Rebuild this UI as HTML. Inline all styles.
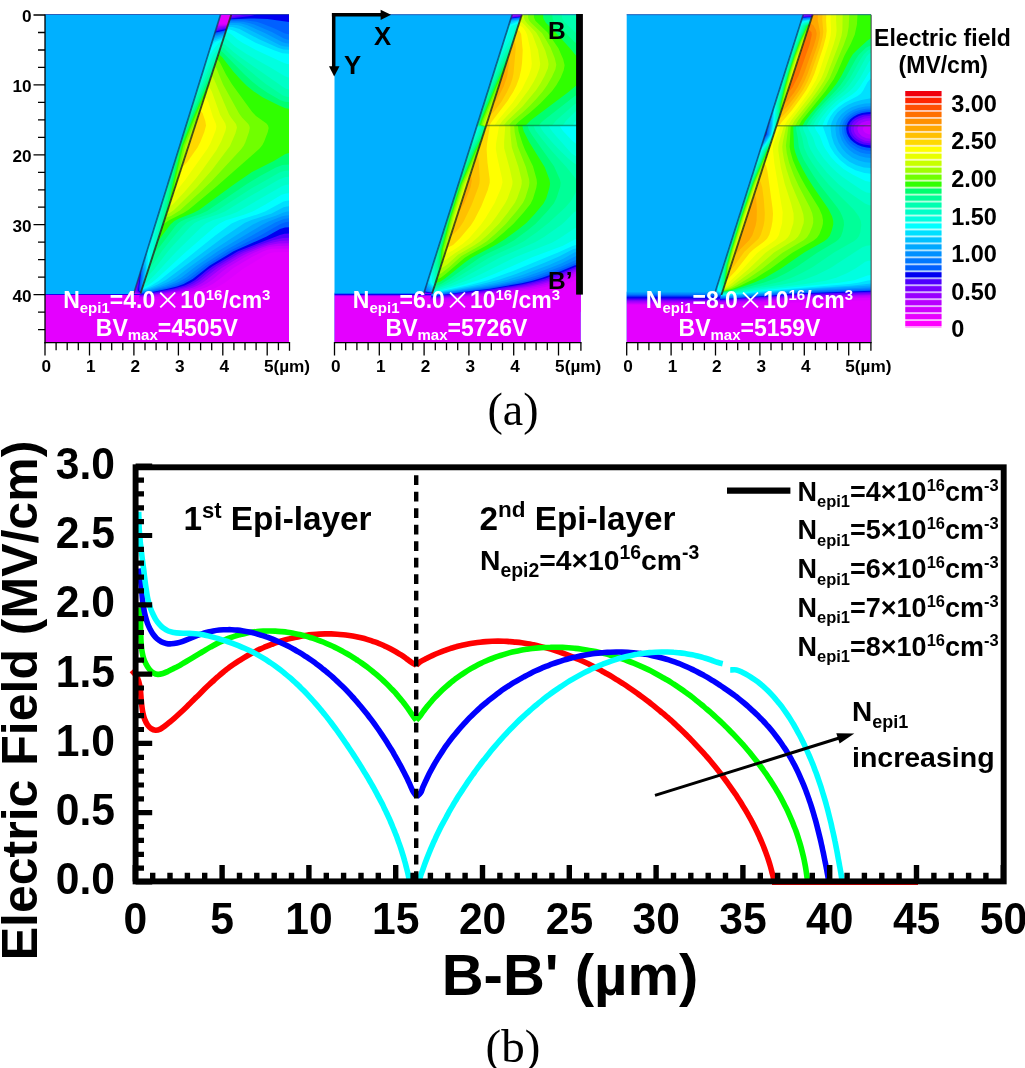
<!DOCTYPE html>
<html lang="en"><head><meta charset="utf-8"><title>Electric field distribution</title>
<style>html,body{margin:0;padding:0;background:#fff}svg{display:block}</style></head><body>
<svg width="1025" height="1068" viewBox="0 0 1025 1068">
<defs><filter id="cbblur" x="-5%" y="-1%" width="110%" height="102%"><feGaussianBlur stdDeviation="0.45"/></filter></defs>
<rect width="1025" height="1068" fill="#fff"/>
<rect x="45.0" y="14.1" width="244.0" height="328.5" fill="#00b0ff"/>
<defs><linearGradient id="bg0" gradientUnits="userSpaceOnUse" x1="0" y1="293.6" x2="0" y2="295.4"><stop offset="0" stop-color="#00b0ff"/><stop offset="0.25" stop-color="#0070ff"/><stop offset="0.45" stop-color="#0000f0"/><stop offset="0.7" stop-color="#9000ff"/><stop offset="1" stop-color="#e400ff"/></linearGradient></defs>
<rect x="45.0" y="293.6" width="244.0" height="49.4" fill="url(#bg0)"/>
<clipPath id="cf0"><path d="M231.6 14.1L289.0 14.1L289.0 312L134.5 312Z"/></clipPath>
<g clip-path="url(#cf0)">
<rect x="134" y="12" width="157" height="300" fill="#e400ff"/>
<path fill="#dc00ff" d="M134 12.5l157 0 0 239.6 -16.5 .2 -4.2 .7 -3.3 1.2 -23.4 14.3 -19.1 14.4 -9.5 5.4 -6 2.3 -16 3.6 -21.5 3.1 -26.5 3.1 -10 .5 -1 0 0 -287.9z"/>
<path fill="#cc00ff" d="M134 12.5l157 0 0 236 -19 .3 -4.5 .9 -4.7 1.8 -10.9 5.5 -18.5 11 -14.4 11.6 -5.6 3.9 -5.9 3.2 -6 2.4 -11 2.8 -18 2.8 -28 3.7 -10 .5 -.5 0 0 -285.9z"/>
<path fill="#b800ff" d="M134 12.5l157 0 0 233.2 -13.5 .2 -7.5 .9 -6 1.7 -10.7 4.5 -8.9 4.5 -16.8 10 -5.5 4 -9.5 8 -5.6 3.8 -5.5 3 -5.5 2.1 -9 2.4 -14 2.4 -29 4.1 -9.5 .5 -.5 0 0 -284.8z"/>
<path fill="#9800ff" d="M234.2 13l.8 -.5 56 0 0 230.6 -12.5 .4 -9 1.5 -7.9 2.5 -13.7 5.5 -7.9 4 -18.3 11 -18.7 14.6 -5.2 2.9 -5.3 2.2 -8 2.2 -12.5 2.3 -28 4.2 -10 .5 0 -282.6 92 0 5 -.3 3 -.9z"/>
<path fill="#7800ff" d="M240.4 13l.6 -.5 50 0 0 228 -11 .6 -10.5 2.1 -10 3.4 -16.4 6.4 -6.6 3.5 -18.4 11 -18.6 14.6 -5 2.8 -5.1 2.1 -10.9 2.9 -19 3.3 -16.5 2.6 -9 .3 0 -280 94.5 -.1 6.5 -.8 5 -2z"/>
<path fill="#5000ff" d="M247.8 13l.6 -.5 42.6 0 0 225 -8 .6 -10 2.2 -13.5 4.4 -19 7.5 -24.7 14.3 -5.6 4 -12.2 10 -5 3 -6 2.7 -9.7 2.8 -18.3 3.4 -16 2.7 -9 .3 0 -278.1 95.5 0 9.9 -1.3 5.1 -1.4 3 -1.4z"/>
<path fill="#0000f0" d="M258.6 13l.6 -.5 31.8 0 0 221 -6.5 .3 -4.5 1.1 -42 16.4 -25.1 14.7 -5.7 4 -12.1 10 -5.1 3 -5.5 2.5 -10.3 3 -27.2 5.3 -6 .8 -7 .2 0 -276.3 96.5 -.1 20 -2.4 5 -1.3 3 -1.6z"/>
<path fill="#0060ff" d="M250.8 18.5l16.7 .4 23.5 3.4 0 204.7 -6 .4 -5 1.5 -13.4 7.6 -33.1 14.8 -24 14.5 -16.8 13.2 -9 5 -6.9 2.5 -10.1 2.5 -21.7 4.4 -8 .7 -3 .1 0 -274.7 93.5 0 23 -1z"/>
<path fill="#0078ff" d="M231.7 20.5l13.3 -.2 11.5 1.5 6 1.9 11.5 4.5 11 5.4 6 1.1 0 186.7 -5.5 .8 -5.5 2 -18.7 10.8 -32.3 16.2 -22.9 14.3 -16.1 12.6 -7.5 4.4 -7.5 3 -8.9 2.5 -20.1 4.6 -7.5 .9 -4.5 0 0 -272.9 97.5 -.1z"/>
<path fill="#0090ff" d="M134 22l103.5 -.5 5.5 .3 6 1.1 5.2 1.6 17.6 7.5 12.1 6.5 3.1 1 4 .5 0 178 -7.2 1 -8.5 3.5 -48.3 26.9 -23.5 15 -17.1 13.1 -7.7 4.5 -12 4.5 -19.1 5 -6.1 1.1 -7.5 .3 0 -270.4z"/>
<path fill="#00a8ff" d="M232.3 23l7.7 .3 6.9 1.7 17.9 8 17.7 9.3 3.5 1 5 .5 0 171.2 -5 .5 -4.5 1.1 -12.8 4.9 -6.9 3.5 -44.3 26.6 -20.5 14 -15.6 11.9 -6.9 4 -9.7 4 -14.7 4.5 -6.6 1.6 -6.5 .6 -3 0 0 -269.2 98 0z"/>
<path fill="#00c0ff" d="M134 25l0 -.4 79.5 0 23.4 .4 4.1 1 4.8 2 34.7 17.4 4.5 1.1 6 .3 0 164.5 -4 .3 -3.5 .8 -8.5 3.5 -13.8 4.6 -8.4 4 -39.8 25.8 -22 15.6 -14.6 11.1 -7.4 4.5 -9.1 4 -12.9 4.5 -5.5 1.2 -7.5 .3 0 -266z"/>
<path fill="#00e0ff" d="M134 26.5l89 -.1 9.5 .5 7 2.2 19.5 10.1 19 8.6 5.5 1.6 7.5 .4 0 156.3 -4 .3 -3.5 .8 -11.9 6.3 -20.1 6.5 -7 3 -21.5 14.5 -57.1 42.5 -8.3 4.5 -10.6 4.5 -5.5 1.3 -7.5 .3 0 -263.6z"/>
<path fill="#00ffff" d="M134 29l0 -.3 84.5 0 10 .4 5.8 1.9 21.2 11.7 18.5 7.6 8.5 2.9 8.5 .6 0 146.5 -4 .4 -3.5 .9 -18.4 9.9 -8 3 -17.6 5.5 -7.9 3.5 -16.6 12.2 -56.3 45.3 -8.2 5 -5.5 2.5 -4.5 1 -6.5 .2 0 -260.2z"/>
<path fill="#00ffe0" d="M134 31.5l86 0 6.5 .5 4.4 2 6.6 5.4 5 3.3 14.5 7.9 26.5 12.2 3.5 1.1 4 .5 0 128.7 -5 .3 -4.5 1.4 -16 9.7 -12.9 7 -7.8 3 -18.8 5.8 -6.5 3.1 -4.5 3.3 -29.5 25.5 -28 25.8 -5.5 4.5 -5.1 3.5 -3.3 1.5 -3.6 .7 -6 .2 0 -256.4z"/>
<path fill="#00ffc8" d="M134 37l0 -.4 82 0 7.5 .5 3 1.6 8 7.4 12 7.8 24.8 14.1 13.2 8 3 1.2 3.5 .5 0 106.6 -5 .5 -4 1.5 -44.9 25.7 -6.4 2.5 -17.5 5.5 -7.4 3.5 -4.8 4 -24.5 23.9 -21.8 23.6 -6.7 6.5 -3.3 2.5 -2.7 1.2 -8 .7 0 -248.4z"/>
<path fill="#00ffb0" d="M134 42.5l81.5 -.1 7 .8 3.5 2 7.5 6.8 6.5 5 43 30.1 3.5 1.9 4.5 .8 0 86.7 -5.5 .5 -6.5 2.5 -32 18.5 -22 13.6 -6.5 2.7 -17.9 5.7 -6.1 3 -5 4.5 -20.5 22.5 -14.2 18.5 -5.3 6 -3.5 2.8 -3 1.5 -3 .6 -6 .1 0 -236.5z"/>
<path fill="#00ff98" d="M134 46.5l0 -.3 80 0 7.5 .7 3 1.7 8.5 8.5 32.7 26.9 17.3 11.4 3.5 1.3 4.5 .5 0 73.2 -7 .6 -4.5 1.5 -28.3 16 -34.8 22.5 -6.8 3 -16.6 5.5 -6.1 3 -4.5 4 -10.4 11.9 -10 12.6 -8.5 12.6 -4.5 5.4 -2.5 1.8 -2.5 .9 -10 .3 0 -225z"/>
<path fill="#00ff70" d="M134 50l0 -.3 78 0 7.5 .6 3 1.7 21.5 22.1 8.7 7.9 6.3 5 8.9 6 12.6 7.2 4.5 1.5 6 .5 0 62.2 -8.5 .7 -6.6 2.4 -15.8 8.5 -13.6 8.3 -39.5 26.7 -6.6 3 -14.6 5 -5.2 2.5 -2.7 2 -2.8 3 -15.6 20.5 -8.5 9.9 -2.5 1.6 -2.5 .7 -12 .2 0 -208.9z"/>
<path fill="#30ff00" d="M134 54l0 -.5 76.5 0 7.5 .7 2 1.1 2 1.8 11.5 14.6 7 7.9 6.5 6.3 6.5 5.3 9 6.1 16.5 8.3 6.5 2.7 5.5 .8 0 43.7 -3 .4 -3 1.1 -11.2 6.7 -21.8 11.1 -18.5 12.7 -34.5 25.2 -5.9 3 -14.1 5.5 -4.7 2.5 -3.9 3.5 -10.4 13.9 -4.5 4.2 -2.5 1.1 -2.5 .4 -16.5 0 0 -189.6z"/>
<path fill="#70ff00" d="M134 58.5l76.5 -.1 4 .2 2.5 .8 1.5 1.1 1.5 2 6 12.1 6 9.7 20.2 27.7 3.8 4 10.5 7.5 1.5 2 .7 2.5 -.9 4 -3.6 9.5 -1.8 3.5 -2.8 3.5 -44.8 39.5 -25.9 21.5 -5.4 3.5 -14.9 7.5 -8.1 5.8 -2.5 1.2 -4.5 .6 -19.5 0 0 -169.1z"/>
<path fill="#a0ff00" d="M134 65l0 -.5 73 0 4.5 .2 2.4 .8 2.6 3 6.6 16 16 29 2.9 4 6.3 6.5 1.1 2 .4 2 -.8 4 -3.7 10.5 -1.8 3.5 -2.6 3.5 -29.1 31.5 -11 10.5 -21 19 -8.8 5.5 -7.5 2.5 -5.5 .5 -24 0 0 -153.5z"/>
<path fill="#c8ff00" d="M134 74.5l70.5 -.1 3.5 .2 2.5 .7 2 1.6 1.5 2.4 14.9 34.7 2.1 3.5 5 6.5 1 3.5 -1.6 6 -5.4 12.5 -18.4 24.5 -14.5 16.5 -23.1 23 -5 3.4 -5 1.4 -30 .2 0 -140z"/>
<path fill="#e8ff00" d="M134 85.5l0 -.4 67 0 4 .2 2.5 .7 2.4 2 1.9 3.5 8.4 23.5 5.1 8.5 .9 3.5 -.8 4 -4.2 10.5 -5 9 -14.2 20 -6.5 8.5 -11.1 13 -11.9 12.7 -4 2.6 -4 1 -30.5 .2 0 -122.5z"/>
<path fill="#ffff00" d="M134 96.5l0 -.4 62.5 0 7 .6 2.7 1.8 2.3 4.1 4.3 13.9 3.2 7.5 .4 2.5 -.6 3.5 -2.3 6 -3.1 7.5 -2.8 5 -22.1 31 -6.5 8.3 -3.5 3.6 -3.5 2.2 -4 1 -34 .2 0 -97.8z"/>
<path fill="#ffd800" d="M134 109.5l57.5 -.2 6.5 .3 2.5 1.1 2.2 2.8 2.6 7.5 .7 4.5 -1.7 6.5 -4.2 10.5 -2.6 5 -10 14.2 -3 3.2 -3 2.3 -3 1.2 -3.5 .3 -41 .1 0 -58.8z"/>
</g>
<clipPath id="cs0"><path d="M220.7 14.1L231.4 14.1L140.5 293.5L133.8 293.5Z"/></clipPath>
<g clip-path="url(#cs0)">
<rect x="129" y="12" width="106" height="288" fill="#e400ff"/>
<path fill="#dc00ff" d="M225.7 23.5l4.9 -.4 -90.7 276.4 -9.2 0 84.8 -275.5 8.6 -.4z"/>
<path fill="#cc00ff" d="M221.7 24.5l8.6 -.4 -90.4 275.4 -7.9 0 1.5 -5 -1.1 -.7 82.9 -268.9 6.4 -.4z"/>
<path fill="#b800ff" d="M218.9 25.5l11.1 -.7 -90.1 274.7 -4.6 0 1.6 -5 -2.4 -1 -1.5 -1.6 82 -266.1 2.1 -.2z"/>
<path fill="#9800ff" d="M216.9 26.5l12.9 -.9 -89.9 273.9 -1.3 0 1.6 -5 -2.5 -.7 -2.3 -1.1 -1.1 -1.2 -.2 -1 2 -7 .3 -2.7 78.3 -253.9 2.2 -.4z"/>
<path fill="#7800ff" d="M227.4 26.5l2.2 -.2 -88 267.9 -2.4 -.7 -2.3 -1.1 -1.2 -.9 -.3 -1 1.8 -8 .6 -6.3 76.3 -247.6 13.3 -2.1z"/>
<path fill="#5000ff" d="M228.8 27.5l.4 0 -87.4 266.1 -3.5 -1.4 -1.1 -.7 -.5 -1 1.4 -8 .8 -8 -.1 -1.5 74.8 -242.6 6.7 -1.5 6.7 -1.1z"/>
<path fill="#0000f0" d="M223.8 29.5l5 -.9 -86.8 264.4 -3.4 -1.5 -.6 -1 1.9 -16 -.5 -3.4 73.7 -239.1 9 -2.2z"/>
<path fill="#0060ff" d="M224.9 30.5l3.5 -.7 -86.2 262.6 -2.1 -.9 -.8 -1 .1 -4 1.4 -12 -.2 -2.7 -.6 -2.7 72.7 -235.8 11.2 -2.6z"/>
<path fill="#0078ff" d="M225.8 31.5l2.2 -.5 -85.6 260.9 -1.8 -1.4 -.1 -1 .1 -4.5 1.1 -11.5 -.2 -3 -.9 -3.3 71.7 -232.6 13.5 -3.1z"/>
<path fill="#0090ff" d="M226.6 32.5l1 -.2 -85 258.9 -.7 -.7 -.4 -4.3 1.2 -14.7 -.4 -3 -1 -3.4 70.6 -229.1 13.4 -3.2z"/>
<path fill="#00a8ff" d="M223.1 34.5l4.1 -.9 -84.2 256.3 -.5 -6.4 1.2 -12.7 -1.4 -9.2 69 -223.8 3.8 -1.3 7.6 -1.9z"/>
<path fill="#00c0ff" d="M223.9 35.5l2.9 -.7 -83 252.8 -.3 -4.1 1.3 -14 -.8 -8.8 -.5 -2.8 67.2 -218.1 11.5 -3.8z"/>
<path fill="#00e0ff" d="M225.4 36.5l.9 -.2 -81.8 249 -.1 -2.8 1.6 -14.6 -.2 -8.4 -.4 -3 -.8 -2.4 65.4 -212.1 14 -5z"/>
<path fill="#00ffff" d="M224.8 38.5l.9 -.3 -80.4 244.6 2 -14.3 .5 -9 -.4 -5 -1.6 -4.2 58.6 -190.1 1.7 -4.7 1.6 -3 3 -5 3.5 -5 1.9 -1 7.2 -2.5z"/>
<path fill="#00ffe0" d="M224.1 40.5l.9 -.3 -78.2 238.3 3.1 -20 .1 -4 -.6 -4 0 -2 2.4 -12 5 -20 1.2 -5.7 36.1 -117.3 3.5 -8 7.6 -20 4.8 -11 4.1 -6 4.2 -5 1 -1 3.4 -1.5z"/>
<path fill="#00ffc8" d="M223.2 43.5l1 -.9 -75.8 231.1 3.6 -15.2 .8 -5 .4 -8.1 1.3 -8.6 8.8 -43.4 26.2 -84.9 9.6 -22 6.6 -16 6.1 -13 1.6 -3 2.3 -3 6.4 -7z"/>
<path fill="#00ffb0" d="M221.3 49.5l1 -1 -65.9 200.5 .4 -8.5 1.4 -10.6 9.2 -47.4 2.4 -10.1 14.3 -46.4 4.2 -10.5 19.8 -45 4.1 -8 3.9 -7 4.2 -5z"/>
<path fill="#00ff98" d="M220.3 54.5l-60.6 184.5 .7 -7.5 1.2 -9 6.8 -36 9.7 -41 12.1 -30 15 -34 7 -14 7.3 -12z"/>
<path fill="#00ff70" d="M217.3 63.5l-54.3 165.5 1.7 -12.5 6.2 -33 9 -38 12.1 -30 12.9 -29 6 -12 5.7 -10z"/>
<path fill="#30ff00" d="M214.4 72.5l-48.1 146.5 6.4 -35.5 9 -38 11.7 -29 5.4 -12 8.5 -19 6.5 -12z"/>
<path fill="#70ff00" d="M211.4 81.5l-41.2 125.6 4.5 -24.6 8.7 -37 12.3 -30 13.1 -29 2.1 -4z"/>
<path fill="#a0ff00" d="M207 94.5l-32.6 99.9 2.2 -11.9 8.6 -37 11.9 -29 9.5 -21z"/>
<path fill="#c8ff00" d="M202.1 109.5l-23.4 71.7 8.3 -35.7 14.7 -35z"/>
<path fill="#e8ff00" d="M196.6 126.5l-12.1 37.1 4.2 -18.1 7.5 -18z"/>
</g>
<path d="M220.6 14.5L133.8 293.5" stroke="#0c4068" stroke-width="1.7" stroke-opacity="0.75" fill="none"/>
<path d="M231.3 14.5L140.5 293.5" stroke="#2c2810" stroke-width="1.9" stroke-opacity="0.8" fill="none"/>
<path d="M45.0 14.5H289.0" stroke="#3048a8" stroke-width="1" stroke-opacity="0.8" fill="none"/>
<g stroke="#000" stroke-width="1.3" fill="none">
<path d="M44.4 342.6H290.1"/>
<path d="M45.0 342.6v12.8M56.1 342.6v7.6M67.2 342.6v7.6M78.3 342.6v7.6M89.5 342.6v12.8M100.6 342.6v7.6M111.7 342.6v7.6M122.8 342.6v7.6M133.9 342.6v12.8M145.0 342.6v7.6M156.1 342.6v7.6M167.2 342.6v7.6M178.4 342.6v12.8M189.5 342.6v7.6M200.6 342.6v7.6M211.7 342.6v7.6M222.8 342.6v12.8M233.9 342.6v7.6M245.0 342.6v7.6M256.1 342.6v7.6M267.2 342.6v12.8M278.4 342.6v7.6M289.5 342.6v8.2"/>
<path d="M45.0 14.4V343.2"/>
<path d="M45.0 15.0h-11.5M45.0 32.5h-7M45.0 50.0h-7M45.0 67.4h-7M45.0 84.9h-11.5M45.0 102.4h-7M45.0 119.9h-7M45.0 137.3h-7M45.0 154.8h-11.5M45.0 172.3h-7M45.0 189.8h-7M45.0 207.2h-7M45.0 224.7h-11.5M45.0 242.2h-7M45.0 259.6h-7M45.0 277.1h-7M45.0 294.6h-11.5M45.0 312.1h-7M45.0 329.6h-7"/>
</g>
<g font-family='"Liberation Sans", Arial, Helvetica, sans-serif' font-weight="bold" font-size="17.2" text-anchor="middle" fill="#000">
<text x="46.4" y="372">0</text>
<text x="90.9" y="372">1</text>
<text x="135.3" y="372">2</text>
<text x="179.8" y="372">3</text>
<text x="224.2" y="372">4</text>
<text x="263.9" y="372" text-anchor="start">5(µm)</text>
<text x="31.6" y="22.0" text-anchor="end">0</text>
<text x="31.6" y="91.9" text-anchor="end">10</text>
<text x="31.6" y="161.8" text-anchor="end">20</text>
<text x="31.6" y="231.7" text-anchor="end">30</text>
<text x="31.6" y="301.6" text-anchor="end">40</text>
</g>
<g font-family='"Liberation Sans", Arial, Helvetica, sans-serif' font-weight="bold" font-size="23" fill="#fff" text-anchor="middle">
<text x="166.8" y="307.8">N<tspan font-size="15" dy="5.3">epi1</tspan><tspan dy="-5.3">=4.0</tspan><tspan font-family='"Noto Sans CJK SC","Liberation Sans",sans-serif' font-weight="normal" font-size="25" dy="1">×</tspan><tspan dy="-1">10</tspan><tspan font-size="15" dy="-7.5">16</tspan><tspan dy="7.5">/cm</tspan><tspan font-size="15" dy="-7.5">3</tspan></text>
<text x="166.8" y="335.9">BV<tspan font-size="15" dy="4.3">max</tspan><tspan dy="-4.3">=4505V</tspan></text>
</g>
<rect x="334.5" y="14.3" width="246.2" height="328.3" fill="#00b0ff"/>
<defs><linearGradient id="bg1" gradientUnits="userSpaceOnUse" x1="0" y1="292.6" x2="0" y2="296.6"><stop offset="0" stop-color="#00b0ff"/><stop offset="0.25" stop-color="#0070ff"/><stop offset="0.45" stop-color="#0000f0"/><stop offset="0.7" stop-color="#9000ff"/><stop offset="1" stop-color="#e400ff"/></linearGradient></defs>
<rect x="334.5" y="292.6" width="246.2" height="50.4" fill="url(#bg1)"/>
<clipPath id="cf1"><path d="M522.1 14.3L580.7 14.3L580.7 312L426.2 312Z"/></clipPath>
<g clip-path="url(#cf1)">
<rect x="426" y="13" width="156" height="299" fill="#e400ff"/>
<path fill="#dc00ff" d="M426 12.7l156.5 0 0 266.5 -6.5 .9 -11 4.8 -10.5 3 -14 3 -17 3 -55 6 -34.5 3 -7.5 .2 -.5 0 0 -289.9z"/>
<path fill="#cc00ff" d="M426 12.7l156.5 0 0 261.7 -6.1 1.3 -12.4 5.8 -7.5 2.6 -11.5 2.9 -17.5 3.3 -30.5 4.2 -62.5 6.3 -8 .3 -.5 0 0 -287.9z"/>
<path fill="#b800ff" d="M426 12.7l156.5 0 0 259.3 -6.5 1.3 -13.5 6.3 -8.5 3.1 -11 2.8 -15 3 -31.5 4.5 -61.5 6.6 -8.5 .3 -.5 0 0 -286.7z"/>
<path fill="#9800ff" d="M426 12.7l156.5 0 0 257.6 -7 1.2 -14 6.4 -10 3.7 -10.5 2.7 -13 2.7 -33 4.9 -60.5 6.8 -8 .4 -.5 0 0 -285.9z"/>
<path fill="#7800ff" d="M426 12.7l156.5 0 0 256.1 -4 .3 -3.5 .9 -14.5 6.4 -12 4.4 -9.5 2.5 -12 2.6 -32.5 5 -60 7.1 -8 .3 -.5 0 0 -285.1z"/>
<path fill="#5000ff" d="M426 12.7l156.5 0 0 254.7 -7.5 1.1 -14 6 -15.9 5.7 -19.6 4.7 -33.5 5.4 -57.5 7 -8 .3 -.5 .1 0 -284.5z"/>
<path fill="#0000f0" d="M426 12.7l156.5 0 0 253.2 -7.5 1.1 -12.5 5.2 -17.5 6.4 -10.5 3 -11.6 2.6 -32.4 5.3 -42 5.1 -13.5 2 -8.5 .4 -.5 0 0 -283.8z"/>
<path fill="#0060ff" d="M426 12.7l156.5 0 0 251.5 -7.5 1.1 -13.3 5.4 -19.4 7 -10 3 -10.8 2.5 -31.8 5.5 -39.7 5 -15 2.3 -8.5 .4 -.5 0 0 -283.2z"/>
<path fill="#0078ff" d="M426 12.7l156.5 0 0 249.3 -7 1.1 -13.8 5.6 -22.2 8 -11.5 3.5 -10.5 2.5 -31 5.5 -36 4.7 -15.5 2.5 -8.5 .5 -.5 0 0 -282.7z"/>
<path fill="#0090ff" d="M426 12.7l156.5 0 0 245.9 -6.5 1.3 -15.3 6.8 -24.6 9 -20.8 6 -14.4 3 -17.7 3 -33.2 4.6 -15 2.6 -8.5 .4 -.5 0 0 -282.1z"/>
<path fill="#00a8ff" d="M426 12.7l156.5 0 0 242 -6.5 1.3 -14.2 7.2 -19 7.5 -18.6 6.5 -12.1 3.5 -13.2 3 -16.3 3 -32.1 4.8 -15.5 2.8 -8.5 .4 -.5 0 0 -281.5z"/>
<path fill="#00c0ff" d="M426 12.7l156.5 0 0 238.5 -4.5 .3 -3.5 .9 -11.2 6.3 -13.6 6 -27.9 10.5 -15.8 5 -12.3 3 -15.3 3 -43.4 7.5 -8.5 .4 -.5 0 0 -280.9z"/>
<path fill="#00e0ff" d="M426 12.7l156.5 0 0 235.2 -5.5 .3 -4 1 -13.5 7 -15 6.5 -27.9 11 -17.6 6 -20.3 5 -41.7 8 -10.5 .8 -.5 0 0 -280.3z"/>
<path fill="#00ffff" d="M426 12.7l156.5 0 0 231.5 -5 .4 -5 1.4 -15 6.7 -45 18.5 -24.7 9 -17 4.5 -33.8 7.3 -4.5 .7 -6 .1 -.5 0 0 -279.6z"/>
<path fill="#00ffe0" d="M426 12.7l156.5 0 0 112.7 -22.6 .3 .8 2 2.1 3 8.7 9.3 6 5 2 1.1 3 .7 0 91.2 -4.5 .4 -2.5 .7 -12.5 6.6 -31.5 11.8 -35.5 15.7 -17.8 7 -14.7 4.5 -26.3 6.5 -4.7 .7 -6 .2 -.5 0 0 -278.9z"/>
<path fill="#00ffc8" d="M426 12.7l156.5 0 0 104.6 -3 .8 -2.5 1.5 -2.5 2.6 -1.8 3 -23.7 .5 1.3 3 2.5 3.5 18.7 21.2 4.5 2.9 6.5 .9 0 69 -4.5 .8 -4.5 2 -14.5 9.8 -7.1 3.9 -36.8 14.5 -32.3 16 -15.3 7 -12.2 4.5 -16.5 5 -5.3 1.1 -7 .3 -.5 0 0 -277.9z"/>
<path fill="#00ffb0" d="M426 12.7l149.5 0 .2 5 1.2 3.5 2.5 2.5 3.1 1.1 0 83.1 -3.1 .8 -3.6 2.5 -9.8 9.5 -3.1 4.5 -22.9 .5 1.5 3.5 2.5 3.5 9 10.5 6.7 7 8.3 8 5.5 4.5 5.5 3.5 3.5 1 0 42.1 -4.9 .9 -3.6 2 -9 9.3 -4 3.5 -17 11.9 -9 5.4 -35.5 15.4 -37.5 20.7 -10.5 5.1 -15 5.5 -4 .7 -6.5 .1 0 -276.6z"/>
<path fill="#00ff98" d="M426 12.7l135.7 0 .5 5.5 2.4 4 12.9 12.3 2 1.2 3 .7 0 64.1 -4 1.1 -4.5 3.1 -17.7 15.5 -4.1 5 -18.8 .5 2.1 4.8 7 9.3 9.5 11.4 14.5 16 12.5 15.5 .5 1.5 -.5 2 -7.5 14 -6 7 -16.7 15.5 -12.1 9.5 -12.8 9 -7.5 4 -27.9 12.7 -34.3 21.3 -9.2 5 -9.5 3.7 -9.5 .6 0 -275.3z"/>
<path fill="#00ff70" d="M426 12.7l126.1 0 .5 6 1.2 2.5 2.1 2.5 10.1 9.5 8.5 8.9 4 2.4 4 .9 0 47.7 -4 .8 -4 2.3 -30.1 23.5 -3.4 3 -2 2.5 -11.4 .5 1.3 4 3.1 5.2 22 31.3 5.8 13 .8 3.5 -.4 4 -3.6 11 -2.7 5.5 -7 8.5 -11.3 12 -7.6 6.3 -13.9 10.2 -7.9 4.5 -19.1 9 -7.5 4 -30.8 21.5 -7.3 4.5 -6.6 2.5 -8.9 .5 0 -273.5z"/>
<path fill="#30ff00" d="M426 12.7l117 0 .3 5.5 2.5 4.5 11 11 13.6 15 6.1 7.6 3 2.1 3 .9 0 22.5 -4.5 2.1 -9.2 7.8 -38 28.5 -5 5 -3.5 .5 1.4 5.5 5.3 10.5 15.8 25.5 4.7 12.5 .6 4 -.7 4 -3.1 10.5 -2.8 5.3 -8.5 10.2 -8.4 9 -7.4 6 -14.3 10.5 -8.9 5.5 -24.5 13 -7 5.1 -19.2 15.4 -4.8 3.2 -6 2.2 -8.5 .4 0 -270.8z"/>
<path fill="#70ff00" d="M426 12.7l107.9 0 0 4.5 1.5 3.5 12.4 12 10.6 15.5 4.8 11 1.4 6 -.9 5 -3 7.5 -4.4 7.5 -4.4 6 -11.4 12 -10.1 9 -11.8 9.5 -3.3 3.5 2.6 .5 .7 5.5 3.9 12.4 2.5 6.2 8 16.4 3.6 13 .4 4 -.7 4.5 -3.3 11 -2.4 5 -6.8 8.5 -10.3 11.5 -9.4 8.5 -11.5 9.5 -6.1 3.9 -16.1 8.6 -5.7 3.5 -18.7 16.1 -5.5 4.1 -5.5 1.9 -9 .3 0 -266.9z"/>
<path fill="#a0ff00" d="M426 12.7l102.3 0 -.2 5 1.2 3 2.2 2.6 10.6 9.9 8.3 14 4.4 11 1.5 6.5 -.9 4.5 -3.4 7.5 -4.9 8.5 -4.2 6 -6.4 7.5 -6.7 7 -6.8 6.5 -10.7 9 -3.4 4 5.3 .5 .5 6.5 2.9 14 8.2 20.5 3.3 12.5 .3 3.5 -.6 4 -3.4 11 -2.4 5 -6.4 8.5 -10.6 12.5 -9.9 9.5 -9.2 8 -6.2 4 -19.5 11 -12.6 11.5 -7.6 5.8 -5 1.7 -10 .2 0 -262.2z"/>
<path fill="#c8ff00" d="M426 12.7l97.8 0 0 4.5 1.3 3.5 2.4 3 8.5 8.5 3.4 5.5 5.9 13 2.7 9.5 .6 4 -.7 4 -3.2 7.5 -4.1 7.5 -4.6 7 -13.3 16 -15.7 15 -3.1 4 6.4 .5 .1 7.5 1.4 14 6.7 20.1 3.2 12.9 0 3.5 -.7 3.5 -3.7 10.5 -2.4 5 -7.5 10.5 -8.4 10.5 -11.1 11 -7.5 6.5 -6 4 -16.4 9.6 -11 9.9 -5 3.4 -5 1.5 -11 .2 0 -256.6z"/>
<path fill="#e8ff00" d="M426 19.2l85.5 -.3 6.5 .6 3 1.9 4 3.8 4.9 5.5 2.6 4 5.5 15 2.2 14 -.7 4.5 -2.8 7.5 -3 6 -4.9 8 -11.6 15.5 -14.7 15.5 -3.2 4.5 6 .5 -1.2 16.5 .1 6 5.8 21.5 2.5 11.5 -.1 3 -.9 3.5 -3.8 10.5 -2.5 5 -8.7 13 -5.6 7.5 -12.5 13 -6.8 6 -16.7 10.5 -8.9 6.5 -3 1.6 -4.5 1.1 -12.5 .1 0 -242.8z"/>
<path fill="#ffff00" d="M426 24.7l86 -.2 7 .6 2.5 1.3 2 1.9 2 2.9 1.6 3.5 3.3 15 1.4 13.5 -.5 4.5 -2.5 7.5 -6.9 14 -9.3 13.5 -15 18 -3 4.5 4.5 .5 -3 17.5 -.3 5.5 1.6 9 4.7 21 .4 3.5 -1.5 6 -6.5 15 -9.1 15 -4.9 7 -11.4 13 -6.3 5.5 -10.3 7 -7 3.2 -5 .9 -14.5 0 0 -229.6z"/>
<path fill="#ffd800" d="M426 29.2l83.5 -.1 7 .4 3 1.6 1.7 3.1 1.5 16 -.6 12 -.9 7 -1.9 8.5 -3 8 -3.3 6.5 -5.7 9 -15.6 20.5 -2.2 3.5 .4 .5 -2.8 17.5 -.5 6 .9 13.5 2.2 16.5 0 3.5 -2 7.5 -6.4 16 -6.9 13.5 -3.5 5.5 -10.9 13 -7 6.7 -3.5 1.9 -3.5 .9 -20 .2 0 -218.2z"/>
<path fill="#ffc000" d="M426 36.7l84 .1 2.5 .8 1.8 2.1 1.1 4 .3 5 -2.2 25 -1.1 5 -2 6 -3.5 7.5 -5.5 9.5 -6.9 9.2 -5 5.2 -3.5 2 -4.5 .8 -55.5 0 0 -81.7zM426 151.7l44 -.2 5 .7 2.1 2 1.5 4.5 1.1 20.5 -.3 4 -.9 3.5 -6.8 18 -8.2 17 -3.3 5 -3.7 4.6 -4.5 4 -4.5 2.1 -4.5 .4 -17 0 0 -85.6z"/>
<path fill="#ffa800" d="M426 54.7l77.5 0 2.5 .7 1.5 1.6 1 2.8 .3 3.9 -1.6 12.5 -3.7 10.8 -6.5 12.4 -2.5 3.1 -3 2.3 -3 1 -3.5 .3 -59 0 0 -50.9zM426 172.7l41 .1 2 .8 1.5 1.6 1 2.5 .3 3 -1.1 6 -6.2 16 -4 7 -4.5 5 -2.5 1.4 -3 .6 -24.5 .1 0 -43.6z"/>
<path d="M486.2 125.5H580.7" stroke="#004020" stroke-opacity="0.45" stroke-width="1.6" fill="none"/>
</g>
<clipPath id="cs1"><path d="M512.2 14.3L521.9 14.3L432.1 293.5L423.8 293.5Z"/></clipPath>
<g clip-path="url(#cs1)">
<rect x="419" y="13" width="106" height="287" fill="#e400ff"/>
<path fill="#dc00ff" d="M510.5 13.7l13.6 0 -92.3 286 -11.6 0 90 -285z"/>
<path fill="#cc00ff" d="M510.5 13.7l13.6 0 -92.3 286 -11.6 0 90 -285z"/>
<path fill="#b800ff" d="M512.4 13.7l11.7 0 -92.3 286 -11.6 0 89.9 -284.8 2 -.2z"/>
<path fill="#9800ff" d="M522.1 13.7l2 0 -92.3 286 -9.9 0 1.5 -5 -1.6 -.2 88 -278.6 12 -1.2z"/>
<path fill="#7800ff" d="M517.3 15.7l6.3 -.5 -91.8 284.5 -1.7 0 1.6 -5 -9.5 -1.2 87.3 -276.7 6.1 -.9z"/>
<path fill="#5000ff" d="M514.8 16.7l8.6 -1 -89.9 278.5 -11.1 -1.6 86.9 -275.2 4 -.5z"/>
<path fill="#0000f0" d="M519.6 16.7l3.6 -.4 -89.5 277.3 -6.3 -.8 -4.7 -1 86.4 -273.8 10.1 -1.2z"/>
<path fill="#0060ff" d="M516.6 17.7l6.4 -.8 -89.1 276.2 -6.3 -1 -4.6 -1.4 85.9 -272 6.1 -.8z"/>
<path fill="#0078ff" d="M521.5 17.7l1.3 -.2 -88.7 275.1 -5.2 -.9 -3.2 -1 -2 -2 85 -269.4 12.1 -1.5z"/>
<path fill="#0090ff" d="M518.5 18.7l4.1 -.5 -88.4 273.9 -5.8 -1.4 -4.1 -4.1 84.2 -266.6 8.1 -1.1z"/>
<path fill="#00a8ff" d="M515.5 19.7l6.9 -.9 -88 272.7 -3.3 -.8 -3.4 -3 -2.7 -3.2 83.3 -263.9 6 -.8z"/>
<path fill="#00c0ff" d="M520.3 19.7l1.9 -.2 -87.6 271.4 -.7 -.2 -2.1 -1.5 -3.6 -3.5 -1.6 -2 -.5 -1 -.2 -1.2 82 -259.7 4.6 -1.1 7.7 -1z"/>
<path fill="#00e0ff" d="M517.3 20.7l4.7 -.6 -87 269.5 -3.9 -3.3 -3 -3.6 -.6 -6.2 79.8 -252.7 5.7 -2.1 2.9 -.7z"/>
<path fill="#00ffff" d="M517.9 21.7l3.9 -.9 -86.3 267.3 -3.7 -3.4 -1.6 -2 -1.1 -11.2 43.1 -136.6 3.1 -7.2 -.5 -.9 31.8 -100.8 11 -4.2z"/>
<path fill="#00ffe0" d="M520 22.7l1.3 -.5 -85.3 264.3 -2.6 -2.3 -1.1 -1.5 -1.6 -16.2 38.1 -120.8 5.3 -11 3.1 -7 -.7 -1 -1.5 -.5 14.5 -46 11.7 -29.5 4.6 -10 4.9 -14 1.1 -1 7.3 -2.7z"/>
<path fill="#00ffc8" d="M519.3 24.7l1.4 -.5 -84.2 260.8 -2.1 -2.3 -1.8 -16 2.1 -13.1 29.4 -92.9 4.5 -11 7.4 -15 3 -7 -.8 -1 -3.1 -1 8.5 -26.9 12.2 -30.1 6.5 -15 3.6 -7 3.7 -6 5.8 -14 1.2 -1 1.9 -.7z"/>
<path fill="#00ffb0" d="M519.2 28.7l-82.2 254.7 -.5 -.7 -.7 -4 -1.4 -13 2.6 -16 8.3 -29.5 12.4 -39.3 12.1 -30.2 8 -16 3 -7 -.8 -1 -3.2 -1 -1.4 -.8 3.3 -10.5 16.4 -39.7 7.5 -17 5 -9 5.9 -8 5.2 -11z"/>
<path fill="#00ff98" d="M513.5 44.7l.9 -.9 -76.3 236.3 -1.8 -14.4 2.1 -16 9.4 -34 10.5 -33 13.1 -32 8.2 -16 3 -7 -.8 -1 -3.4 -1 -1.9 -1 1.6 -5 15.8 -38 7.9 -18 4.6 -9 3.2 -5 3 -4z"/>
<path fill="#00ff70" d="M512.2 49.7l-72.8 226.3 -1.2 -10.3 .5 -7 1.1 -9 9.3 -34 10.1 -32 1.6 -4 12.2 -29 8.4 -16 3.1 -7 -.9 -1 -3.6 -1 -2 -1 1.6 -5 13.3 -32 7.1 -16 7.3 -15 4.2 -6z"/>
<path fill="#30ff00" d="M510.1 55.7l.7 -.9 -70 217 -.7 -5.1 0 -3 1.2 -14 9 -34 10.2 -32 14.2 -33 8.5 -16 3.1 -7 -1 -1 -3.7 -1 -2 -1 1.5 -5 15.6 -37 6.6 -14 6.2 -12z"/>
<path fill="#70ff00" d="M508.2 62.7l-20.7 64.4 -.4 -.4 -3.8 -1 -2.2 -1 1.6 -5 13.3 -32 6.1 -13 5.6 -11zM484.5 135.7l-42.4 132 -.2 -9 1 -10 8.7 -33 10.1 -32 14.6 -33 7.6 -14z"/>
<path fill="#a0ff00" d="M504.9 72.7l-17.2 53.7 -2.8 -.7 -2.3 -1 1.9 -6 12.6 -30 7.3 -15zM482.3 142.7l-38.7 120.3 .1 -7.3 .6 -7 8.5 -33 10.2 -32 13.5 -30 5.2 -10z"/>
<path fill="#c8ff00" d="M502.1 81.7l-14.3 44.3 -3.7 -1.3 2 -6 12.6 -30 2.9 -6zM480.1 149.7l-34.9 108.3 .3 -8.3 7 -28 1.5 -6 10.3 -32 15.3 -33z"/>
<path fill="#e8ff00" d="M498.6 92.7l-10.7 32.9 -2.2 -.9 1.9 -6 10.5 -25zM476.8 159.7l-30 93.3 .4 -4.3 8.1 -33 10.6 -33 10.5 -22z"/>
<path fill="#ffff00" d="M493.4 108.7l-5.3 16.4 -.9 -.4 1.9 -6 3.8 -9zM474 168.7l-24.6 76.2 7.1 -29.2 10.7 -33 6.3 -13z"/>
<path fill="#ffd800" d="M471.3 176.7l-16.9 53 3.4 -14 10.3 -32 2.8 -6z"/>
</g>
<path d="M512.1 14.7L423.8 293.5" stroke="#0c4068" stroke-width="1.7" stroke-opacity="0.75" fill="none"/>
<path d="M521.8 14.7L432.1 293.5" stroke="#2c2810" stroke-width="1.9" stroke-opacity="0.8" fill="none"/>
<path d="M334.5 14.7H580.7" stroke="#3048a8" stroke-width="1" stroke-opacity="0.8" fill="none"/>
<g stroke="#000" stroke-width="1.3" fill="none">
<path d="M333.9 342.6H581.5"/>
<path d="M334.5 342.6v12.8M345.7 342.6v7.6M356.9 342.6v7.6M368.1 342.6v7.6M379.3 342.6v12.8M390.5 342.6v7.6M401.7 342.6v7.6M412.9 342.6v7.6M424.1 342.6v12.8M435.3 342.6v7.6M446.5 342.6v7.6M457.7 342.6v7.6M468.9 342.6v12.8M480.1 342.6v7.6M491.3 342.6v7.6M502.5 342.6v7.6M513.7 342.6v12.8M524.9 342.6v7.6M536.1 342.6v7.6M547.3 342.6v7.6M558.5 342.6v12.8M569.7 342.6v7.6M580.9 342.6v8.2"/>
</g>
<g font-family='"Liberation Sans", Arial, Helvetica, sans-serif' font-weight="bold" font-size="17.2" text-anchor="middle" fill="#000">
<text x="335.9" y="372">0</text>
<text x="380.7" y="372">1</text>
<text x="425.5" y="372">2</text>
<text x="470.3" y="372">3</text>
<text x="515.1" y="372">4</text>
<text x="555.1" y="372" text-anchor="start">5(µm)</text>
</g>
<g font-family='"Liberation Sans", Arial, Helvetica, sans-serif' font-weight="bold" font-size="23" fill="#fff" text-anchor="middle">
<text x="456.5" y="307.8">N<tspan font-size="15" dy="5.3">epi1</tspan><tspan dy="-5.3">=6.0</tspan><tspan font-family='"Noto Sans CJK SC","Liberation Sans",sans-serif' font-weight="normal" font-size="25" dy="1">×</tspan><tspan dy="-1">10</tspan><tspan font-size="15" dy="-7.5">16</tspan><tspan dy="7.5">/cm</tspan><tspan font-size="15" dy="-7.5">3</tspan></text>
<text x="456.5" y="335.9">BV<tspan font-size="15" dy="4.3">max</tspan><tspan dy="-4.3">=5726V</tspan></text>
</g>
<rect x="626.7" y="14.3" width="244.2" height="328.3" fill="#00b0ff"/>
<defs><linearGradient id="bg2" gradientUnits="userSpaceOnUse" x1="0" y1="291.6" x2="0" y2="305.0"><stop offset="0" stop-color="#00b0ff"/><stop offset="0.25" stop-color="#0070ff"/><stop offset="0.45" stop-color="#0000f0"/><stop offset="0.7" stop-color="#9000ff"/><stop offset="1" stop-color="#e400ff"/></linearGradient></defs>
<rect x="626.7" y="291.6" width="244.2" height="51.4" fill="url(#bg2)"/>
<clipPath id="cf2"><path d="M812.9 14.3L870.9 14.3L870.9 312L715.8 312Z"/></clipPath>
<g clip-path="url(#cf2)">
<rect x="715" y="13" width="158" height="299" fill="#e400ff"/>
<path fill="#dc00ff" d="M715 12.7l157.5 0 0 287.4 -76 2.5 -67.5 4.3 -13.5 .4 -.5 0 0 -294.1z"/>
<path fill="#cc00ff" d="M715 12.7l157.5 0 0 285 -75.5 2.3 -67 4.4 -14.5 .4 -.5 0 0 -291.6z"/>
<path fill="#b800ff" d="M715 12.7l157.5 0 0 110.8 -4 .4 -3 1.1 -2 1.7 -.7 2 .7 2.3 2 2 3 1.3 4 .5 0 161.3 -75.5 2.4 -66 4.4 -16 .5 0 -290.2z"/>
<path fill="#9800ff" d="M715 12.7l157.5 0 0 107.6 -6 .6 -5 1.8 -3 2.6 -1.2 3.4 1.2 4 3.5 3.5 4.5 2 6 .7 0 156 -75 2.3 -64 4.4 -17.5 .6 -1 0 0 -289z"/>
<path fill="#7800ff" d="M715 12.7l157.5 0 0 105.1 -7.5 .7 -6 2.3 -3.9 3.4 -1.1 2 -.4 2.5 .4 2.5 1.1 2.5 2 2.5 2.4 2 5.7 2.5 7.3 .9 0 152.3 -75.5 2.3 -63 4.4 -17.5 .7 -1.5 0 0 -288.1z"/>
<path fill="#5000ff" d="M715 12.7l157.5 0 0 103 -8.5 .8 -7 2.7 -2.7 2 -1.8 2.1 -1.2 2.4 -.5 3 .5 3 1.4 3 1.9 2.5 2.9 2.4 6.5 3 8.5 1.1 0 149.1 -75.5 2.4 -64 4.6 -16.5 .6 -1.5 0 0 -287.2z"/>
<path fill="#0000f0" d="M715 12.7l157.5 0 0 101.1 -9.5 .9 -4 1.3 -3.5 1.7 -3 2.2 -2.4 2.8 -1.3 3 -.4 3 .6 3.5 1.5 3.3 2.5 3.2 3 2.5 3.5 2 4 1.4 9 1.1 0 146.1 -75.5 2.5 -63.5 4.7 -16.5 .7 -2 0 0 -286.5z"/>
<path fill="#0060ff" d="M715 12.7l157.5 0 0 99.3 -5.5 .3 -5 .8 -4.5 1.5 -4 2.1 -3.2 2.5 -2.3 3 -1.3 3 -.5 3.5 .6 4 1.5 3.5 2.5 3.5 3.2 2.9 4 2.4 4 1.6 4.5 1 6 .4 0 142.8 -76 2.7 -64 4.9 -15.5 .6 -2 0 0 -285.8z"/>
<path fill="#0078ff" d="M715 12.7l157.5 0 0 97.5 -6 .4 -5.5 .9 -4.9 1.7 -4.1 2.2 -3.4 2.8 -2.4 3 -1.6 3.5 -.5 4 .6 4.5 1.6 4 2.7 4 3.5 3.4 4.5 2.9 4.5 1.8 5 1.1 6 .4 0 138.9 -76 2.9 -65.5 5.2 -14 .5 -2 0 0 -285.1z"/>
<path fill="#0090ff" d="M715 12.7l157.5 0 0 95.7 -6.5 .3 -5.5 1 -5.5 1.9 -4.5 2.4 -3.8 3.2 -2.7 3.5 -1.7 4 -.5 4 .6 5 1.9 5 2.9 4.5 3.8 3.9 4.5 3 5 2.3 5.5 1.3 6.5 .5 0 134.3 -76.5 3.3 -65.5 5.4 -13.5 .5 -2 0 0 -284.5z"/>
<path fill="#00a8ff" d="M715 12.7l157.5 0 0 93.5 -7 .4 -6.5 1.2 -5.5 2 -5 2.7 -4 3.4 -2.9 3.8 -1.9 4.5 -.6 4.5 .6 5.5 2.1 6 3 5 4.2 4.5 5 3.7 5.5 2.6 6 1.5 7 .5 0 129.1 -77 3.9 -66 5.6 -12 .5 -2.5 0 0 -283.9z"/>
<path fill="#00c0ff" d="M715 12.7l157.5 0 0 90.5 -7.5 .4 -7 1.4 -6.5 2.3 -5.5 3.1 -4.5 3.8 -3.4 4.5 -2 4.5 -.7 5.5 .8 7 2.2 6.5 3.6 6 4.5 5.1 5.5 4.1 6.5 3.2 6.5 1.6 7.5 .6 0 122.7 -78.5 4.8 -65.5 5.8 -11 .4 -2.5 0 0 -283.3z"/>
<path fill="#00e0ff" d="M715 12.7l157.5 0 0 73.8 -1.4 2.2 -.5 2.5 .4 1.6 1.5 1.5 0 3.6 -11 2.1 -7 2 -6.5 2.8 -5.5 3.4 -5 4.4 -3.4 4.6 -2.3 5 -1.1 4 -.1 2 1 8 2.4 7.5 3.9 7 5.1 6 6.4 5 7.1 3.6 7.5 2.1 8.5 .7 0 115.2 -19.5 2.2 -59.5 3.9 -65.5 6.2 -10.5 .4 -2.5 0 0 -282.8z"/>
<path fill="#00ffff" d="M715 12.7l157.5 0 0 64.7 -2.5 1.8 -2.5 3 -4.5 8.5 -2.3 3 -3.5 2.5 -12.5 6.5 -6.7 4.9 -4.2 4.1 -3.3 4.5 -2.6 5 -1.3 4.5 -3.8 .5 7.3 20.5 4.4 7.1 5.5 6.3 7.5 5.9 8 4.2 9 2.9 8 .7 0 106.4 -4.5 .4 -10 2.2 -9 1.2 -61 4.9 -61 6.2 -9.5 .3 -2.5 .1 0 -282.3z"/>
<path fill="#00ffe0" d="M715 12.7l157.5 0 0 55.9 -3.4 3.6 -9.1 14.5 -3.3 4 -4.2 3.5 -13 8.6 -8.1 7.4 -5.8 8 -3.3 7.5 -7.9 .5 1.4 3.5 4.2 6.6 3.1 8.4 2.1 4 5.5 8 5.3 5.8 7.5 6.4 9 5.6 13 6.4 7 1.4 0 92.5 -5 .7 -13.3 4.7 -14.8 2.5 -77.9 7.7 -35 4.2 -9 .3 -2.5 0 0 -281.7z"/>
<path fill="#00ffc8" d="M715 12.7l157.5 0 0 45.8 -2 1.5 -1.5 1.8 -8.5 15.4 -6.6 9.5 -4.4 4.5 -13.5 10.4 -7.5 7.1 -7.4 9.5 -2.4 4 -1.5 3.5 -9.5 .5 1 3.5 4.4 8 2.4 7.5 1.7 3.5 6.3 9.5 7 8.1 6 5.7 6 5 19.5 13.3 4.5 2.1 6 .8 0 67.4 -4 .2 -3.2 .9 -9.8 6.9 -8.6 4.6 -10.8 4.5 -10.8 3 -21.2 3.5 -45.6 5.3 -31 4.3 -10 .4 -2.5 .1 0 -281.1z"/>
<path fill="#00ffb0" d="M715 12.7l157.5 0 0 39.7 -3.4 1.3 -2.6 2.8 -11.3 20.2 -6.6 9.5 -4.6 4.8 -12.6 10.7 -7.4 7.5 -8 10.5 -3.1 6 -10.2 .5 .8 3.9 3.2 7.1 1.8 7.6 2 5 6.5 10.5 10 12.4 11.5 11.5 7.5 6 19 13.4 4 1.6 3.5 .3 0 39.6 -6 .6 -4.2 1.5 -31.8 20.9 -14 6.9 -12 4.5 -9 2.5 -13 2.4 -32.7 4.8 -21.8 3.8 -10.5 .6 -2.5 0 0 -280.4z"/>
<path fill="#00ff98" d="M715 12.7l157.5 0 0 36.2 -4.5 1.4 -4.2 3.9 -3.3 5 -9.8 17.5 -5.4 8 -4.3 5 -12.5 11.6 -7.5 7.9 -8.4 11 -2.9 5.5 -10.6 .5 .5 3.5 2.6 8 1.9 10 3.4 7.5 4.5 7.6 8 11.2 8.5 10.4 25.4 25.3 4.8 6.5 2 4.5 .6 4 -1 7.5 -1.4 4 -1.9 2.5 -3.2 2.5 -19.4 11 -21.9 15 -11.1 6 -11 5 -10.2 3.5 -10.7 2.5 -40.7 8 -11.8 .8 -2 0 0 -279.8z"/>
<path fill="#00ff70" d="M715 12.7l157.5 0 0 32.6 -3.5 .9 -3 1.6 -7.2 6.9 -3.1 4.5 -9.6 17.5 -5.4 8 -4.6 5.5 -18.6 19.5 -8.6 11 -2.6 5 -10.3 .5 .2 3.5 1.6 8 1 9.5 1.8 5.5 3.4 7.5 10 16.4 7 9.8 16.5 21.3 2.9 4.5 1.8 4 1.5 4.5 .3 4 -1.3 6.5 -1.7 5 -2.3 3 -3.1 2.5 -18.4 11 -20.3 14 -10.2 6 -10.9 5.5 -12.4 4.5 -26.5 7 -10.9 2.3 -9 .4 -2 0 0 -279.2z"/>
<path fill="#30ff00" d="M715 12.7l157.5 0 0 25 -2.5 1 -2.5 1.8 -11 9.9 -3.5 3.7 -2.9 4.6 -8.6 17 -5.1 8 -5.1 6.5 -20.1 23 -6.2 8 -2.4 4.5 -9.4 .5 .8 21 1.4 5.5 2.8 7.5 4.5 9 5.1 9 5.7 9 14.8 21.5 3.7 7.5 1.2 4.5 .1 3.5 -1.6 6.5 -1.9 5 -2.4 3 -3.3 2.5 -19.5 11 -23.9 16.5 -16.4 9.5 -10.6 4.5 -18.9 6.5 -8.8 2.1 -9 .5 -2 0 0 -278.6z"/>
<path fill="#70ff00" d="M715 12.7l142.6 0 -.7 12 -2.2 10 -3.9 9 -6.3 11.8 -7.2 16.7 -3.6 7 -7.9 11.5 -23.9 29.5 -3.1 5.5 -8.1 .5 -1.1 20.5 .9 5.1 2.4 8.4 3.8 9 4.3 8.8 5 9 13.1 21.2 3 7 .9 5 -.1 3.5 -1 4 -2.5 6.5 -2.4 3.5 -3.7 3 -21 12 -21.7 16 -15.1 9.5 -15.3 7.5 -7.5 3 -7.7 2 -8 .4 -2 0 0 -277.9z"/>
<path fill="#a0ff00" d="M715 12.7l134.4 0 -.7 14 -1.5 8.5 -3.4 9.5 -14.2 33.5 -8.1 12.5 -23.2 29.5 -3.2 5.5 -6.7 .5 -2.5 19 .9 8 2.3 9.5 4.9 13 4.8 10.5 11 21 2.4 6 1 5 0 4.5 -1 4 -2.7 6.5 -2.5 4 -3.4 3 -21.1 12.5 -20.1 16 -13.9 9.5 -11.7 7 -6.1 3 -6.2 1.7 -7.5 .4 -2 0 0 -277.1z"/>
<path fill="#c8ff00" d="M715 12.7l127.7 0 -.3 17 -.9 6 -3 9.5 -11.8 30.5 -3.2 6 -6.6 10 -7.7 10.5 -14.4 18 -3.1 5.5 -5.5 .5 -3.3 15.5 -.6 5 .3 4.5 1.5 9 2.4 9.3 4.5 13.7 9.9 23.5 2.4 7.5 .6 5 -.3 4 -3.3 9.5 -2.4 4 -3.1 3 -20.8 12.9 -19.8 17.1 -21.2 15.5 -3.4 2 -4.1 1.5 -8.5 .7 -2 0 0 -276.2z"/>
<path fill="#e8ff00" d="M715 12.7l121.3 0 -.2 7.5 .5 10 -.6 5.5 -2.3 8.5 -9.8 28 -2.8 6.5 -9.6 15.4 -20.2 26.1 -3.1 5.5 -4.4 .5 -4.9 16.5 -.6 4 0 4 2.5 16.5 3.9 16.5 6.3 19.5 2.5 10 .2 5.5 -.4 4.5 -3.5 11 -1.8 3 -3.2 3 -14.8 9.3 -5 3.7 -16.6 16 -18.9 16 -2.6 1.5 -3.1 1 -8.8 .4 0 -274.9z"/>
<path fill="#ffff00" d="M715 12.7l115.8 0 -.2 7.5 .5 10.5 -.5 5 -2.3 9 -9.2 28 -2.9 7 -8.7 14.5 -10.3 14 -10 12.5 -2.9 5 -3.6 .5 -7.4 18 -.5 5 1.6 14.5 8.3 48.5 -.6 11 -3.3 12 -1.9 3 -2.6 2.5 -12.4 8.5 -4.9 4 -15 16.5 -14 13.5 -2.1 1.5 -2.7 1 -8.2 .4 0 -272.9z"/>
<path fill="#ffd800" d="M715 12.7l111.4 0 -.3 7.5 .6 10.5 -.7 6 -2.6 10 -9 27 -3.5 8 -4.7 8.5 -6.9 10 -7.8 10.5 -9.9 11.5 -2.4 3.5 -7.2 .4 -57 0 0 -112.9zM715 161.7l0 -.4 43.5 0 3.5 .4 2.1 1 1.9 2.8 1.4 5.2 5.1 37 .5 6 -.5 7.5 -1.1 6 -2.1 7.5 -2.3 4 -3.2 3 -9.8 7.4 -4.1 3.6 -14.5 18.5 -6.9 7.2 -3 2.1 -2.5 .9 -8 .5 0 -119.7z"/>
<path fill="#ffc000" d="M715 12.7l107.5 0 -.2 7.5 1 11.5 -.7 5.5 -2.5 9.5 -9.3 27 -3.2 7.5 -4.5 8.5 -6.9 10 -8.2 10.7 -6 6.3 -4.5 2.9 -5 1 -57.5 .1 0 -107.5zM715 178.7l38.5 -.1 3 .2 2.2 .9 2 2.5 1.5 5 1.6 12 1 14 -.3 7 -.9 5.5 -2.8 9 -2.3 4 -14.1 13 -10.4 14.5 -4.5 5 -2.5 1.7 -2.5 .8 -9.5 .4 0 -94.9z"/>
<path fill="#ffa800" d="M715 12.7l102.9 0 -.1 7.5 2.3 12.5 -.6 5 -2.3 8.5 -9.6 27.5 -3.1 7.2 -4.4 8.3 -6.1 8.8 -6.5 8.3 -5.5 5.5 -3.5 1.8 -4 .5 -59.5 0 0 -100.9zM715 193.2l33.5 0 4.5 .7 2 1.7 1.2 3.1 .7 12.5 -.3 9 -.9 5 -3.3 10 -3.2 5 -9.4 9.5 -6.3 7.5 -2.5 2 -4.5 1.5 -11.5 .1 0 -67.1z"/>
<path fill="#ff9000" d="M715 21.7l92 .1 3.5 1.1 3 2.7 2.4 4.1 .8 4 -.7 4.5 -2 7.1 -9.5 27 -3 7.3 -3.9 7.6 -3.6 5.5 -6 7.7 -4 3.7 -3.5 1.7 -4 .6 -61.5 0 0 -84.2z"/>
<path fill="#ff7000" d="M715 29.2l0 -.3 90 .1 3 .4 2 1.1 1.3 1.7 .5 2.5 -2.3 10.2 -11 30.8 -6 11.6 -3 3.9 -3 2.6 -3 1.3 -4 .5 -64.5 0 0 -65.9z"/>
<path d="M776.4 125.8H870.9" stroke="#004020" stroke-opacity="0.45" stroke-width="1.6" fill="none"/>
</g>
<clipPath id="cs2"><path d="M803.3 14.3L812.7 14.3L721.4 295.0L714.3 295.0Z"/></clipPath>
<g clip-path="url(#cs2)">
<rect x="710" y="13" width="106" height="287" fill="#e400ff"/>
<path fill="#dc00ff" d="M801.6 13.7l13.2 0 -93.6 286 -9.8 0 89.9 -285z"/>
<path fill="#cc00ff" d="M801.6 13.7l13.2 0 -93.6 286 -9.8 0 89.9 -285z"/>
<path fill="#b800ff" d="M801.6 13.7l13.2 0 -93.6 286 -9.8 0 89.9 -285z"/>
<path fill="#9800ff" d="M803.5 13.7l11.3 0 -93.6 286 -9.8 0 89.9 -284.8 1.9 -.2z"/>
<path fill="#7800ff" d="M812.9 13.7l1.9 0 -93.6 286 -9.8 0 51.6 -163.7 .8 -1.3 .2 -1.8 37 -117.1 11.6 -1.1z"/>
<path fill="#5000ff" d="M811.2 15.7l3 -.3 -93 284.3 -9.8 0 51 -161.7 2.3 -3.3 .6 -6 35.4 -112.1 9.7 -.8z"/>
<path fill="#0000f0" d="M808.6 16.7l5.4 -.5 -92.8 283.5 -8.4 0 .9 -3 -1 -1.1 49.1 -155.5 3.7 -5.4 1.1 -9.9 33.9 -107.6 7.7 -.5z"/>
<path fill="#0060ff" d="M802.2 17.7l11.6 -.8 -92.6 282.8 -4.9 0 1 -3 -1 -1 -3.3 -1.1 48.1 -152.5 5.2 -7.4 1.2 -9 .2 -4.3 32.6 -103.5 1.9 -.2z"/>
<path fill="#0078ff" d="M809.6 17.7l4 -.3 -92.4 282.3 -1.4 0 1 -3 -1.2 -1 -6.3 -2.1 47.2 -149.5 6.7 -9.4 1.2 -9 .4 -7.8 31.3 -99.4 7.7 -.7z"/>
<path fill="#0090ff" d="M804 18.7l9.4 -.8 -90.8 277.7 -5.2 -1.3 -3.8 -1.6 46.2 -146.6 4.9 -6.4 3.3 -5 1.4 -9 .5 -11.5 30 -95.1 3.9 -.4z"/>
<path fill="#00a8ff" d="M810.3 18.7l2.9 -.2 -90.4 276.5 -5.2 -1.5 -3.7 -1.8 45.3 -143.5 5.7 -7.5 4 -6 1.4 -9 .8 -15.1 28.6 -90.9 9.7 -.9z"/>
<path fill="#00c0ff" d="M805.3 19.7l7.8 -.7 -90.1 275.4 -3.9 -1.2 -3.3 -1.5 -1.2 -1 0 -1.2 43.7 -138.4 .7 -1.4 6.1 -8 4.6 -7 1.6 -9 .9 -18.8 27.3 -86.6 3.9 -.4z"/>
<path fill="#00e0ff" d="M810.7 19.7l2.2 -.2 -89.7 274.2 -5.1 -1.8 -1.7 -1.2 -.2 -6.2 38.5 -121.9 5.3 -12.9 6 -8 4.6 -7 1.6 -9 1.2 -22 25.8 -82.2 2.1 -.8 7.7 -.8z"/>
<path fill="#00ffff" d="M806.1 20.7l6.6 -.7 -89.3 273.1 -3.7 -1.4 -1.6 -1 -.5 -3 -.1 -4 1.5 -8.1 31.9 -101.1 9.6 -23.8 7.1 -10 3.8 -6 1.7 -9 1.4 -22 9 -31 5.1 -16 10.4 -31 1.5 -2.4 1.7 -1.6 2.8 -.8z"/>
<path fill="#00ffe0" d="M811 20.7l1.6 -.2 -89 272 -3.7 -1.8 -1 -4 -.2 -4 2.4 -12 2.7 -10.2 21.3 -67.6 3.5 -10.2 12.9 -32 7 -10 3.7 -6 1.9 -9 1.4 -22 8.9 -31 4.7 -15 11.3 -32 1.9 -2.2 2.3 -1.4 6 -1.4z"/>
<path fill="#00ffc8" d="M808.9 21.7l3.5 -.6 -88.6 270.7 -2.2 -1.1 -.9 -2.5 -.6 -2.6 -.2 -2.9 1.4 -8 1.8 -9 14.7 -49 11.7 -34 13.1 -32 6.8 -10 3.7 -6 1.9 -9 1.5 -22 9 -32 4.8 -15 5.6 -16 5.8 -15 2.4 -2.1 4.3 -1.8z"/>
<path fill="#00ffb0" d="M808.3 22.7l3.9 -1 -88.1 269.4 -.7 -.4 -1.2 -2.6 -.7 -2.4 -.4 -3 2.5 -15 5.1 -18 10 -33 11.7 -34 12.8 -31 .9 -2 5.4 -7.8 4.4 -7.2 2.1 -9 1.5 -22 8.9 -32 4.8 -15 5.3 -15 6.5 -16 2.8 -2 2.3 -1z"/>
<path fill="#00ff98" d="M810.7 22.7l1.3 -.3 -87.5 267.3 -1.4 -3 -.8 -4 2.4 -16 4.8 -17 10.4 -34 11.4 -33 11.2 -27 2.7 -6 5.4 -8 4.2 -7 2.1 -9 1.6 -22 4.2 -16 4.5 -16 7.4 -22 4.1 -11 5.6 -13 3.4 -2 2.2 -.8z"/>
<path fill="#00ff70" d="M809.6 23.7l2.2 -.7 -34.8 106.2 .9 -3.5 1.6 -22 4 -16 4.3 -15 5.1 -16 5.9 -16 6.9 -15 1.8 -1.1zM774.5 136.7l-49.4 151.2 -1.2 -3.2 -.4 -2 .9 -8 1.5 -9 4.4 -16 10.4 -34 11.5 -33 7.4 -18 6.6 -15 7.8 -12z"/>
<path fill="#30ff00" d="M811.5 23.7l-32.6 99.7 1.6 -19.7 3.9 -16 4.5 -16 4.9 -15 6 -16 7.2 -15 2.4 -1.2zM773 140.7l.5 -.8 -47.8 146.2 -1 -3.4 .7 -8 1.4 -9 4.3 -16 10.5 -34 11.1 -32 4.1 -10 9.9 -23 5.7 -9z"/>
<path fill="#70ff00" d="M810.4 24.7l.9 -.3 -31.3 95.6 1.6 -16.3 3.7 -16 4.5 -16 4.8 -15 6.2 -16 6.4 -13 1.1 -2 .9 -.4zM772.1 143.7l-45.8 140.6 -.4 -1.6 .2 -4 1.6 -13 4.3 -16 10.5 -34 11.4 -33 13.8 -32 3.8 -6z"/>
<path fill="#a0ff00" d="M809.7 25.7l1.4 -.7 -29.7 90.9 1.2 -12.2 3.6 -16 4.4 -16 4.9 -15 5.8 -15 3.9 -8 3.9 -7zM771.2 146.7l-44.1 135.1 .5 -8.1 1 -8 4.2 -16 10.5 -34 11.5 -33 11.7 -27 2.3 -5 1.8 -3z"/>
<path fill="#c8ff00" d="M810.4 26.7l-27.6 84.8 .8 -7.8 1.9 -9 1.6 -7 4.4 -16 4.9 -15 5.9 -15 3.5 -7 3.9 -7zM770.3 149.7l-42 128.3 1 -11.3 1 -4 3.3 -13 10.6 -34 11.5 -33 14.1 -32z"/>
<path fill="#e8ff00" d="M809.2 30.7l-24.9 76.4 .3 -3.4 3.1 -15 4.6 -17 4.9 -15 4 -10 2.5 -6 4.9 -9zM767.6 157.7l-38 116.4 .8 -8.4 4.1 -16 10.5 -34 11.6 -33 10.5 -24z"/>
<path fill="#ffff00" d="M807.4 35.7l.5 -.9 -22 67.1 2.9 -14.2 4.4 -16 4.9 -15 6.1 -15 2.6 -5zM765.4 164.7l-34.5 105.5 .4 -4.5 4 -16 10.6 -34 11.6 -33 7.4 -17z"/>
<path fill="#ffd800" d="M806.2 39.7l-18 55.3 1.5 -7.3 4.3 -16 5 -15 6.7 -16zM762.8 172.7l-30.6 93.6 3.9 -16.6 10.6 -34 11.3 -32 4.3 -10z"/>
<path fill="#ffc000" d="M804 46.7l-13.5 41.2 4.4 -16.2 4.9 -15 3.8 -9zM760.2 180.7l-25.1 76.6 2.1 -8.6 10.4 -33 12.1 -34z"/>
<path fill="#ffa800" d="M800.7 56.7l-5.4 16.8 5 -15.8zM751.6 206.7l-9.6 29.4 6.1 -19.4 3.2 -9z"/>
</g>
<path d="M803.2 14.7L714.3 295.0" stroke="#0c4068" stroke-width="1.7" stroke-opacity="0.75" fill="none"/>
<path d="M812.6 14.7L721.4 295.0" stroke="#2c2810" stroke-width="1.9" stroke-opacity="0.8" fill="none"/>
<path d="M626.7 14.7H870.9" stroke="#3048a8" stroke-width="1" stroke-opacity="0.8" fill="none"/>
<path d="M871.2 14.7V343" stroke="#404848" stroke-width="1.3" stroke-opacity="0.8" fill="none"/>
<g stroke="#000" stroke-width="1.3" fill="none">
<path d="M626.1 342.6H871.5"/>
<path d="M626.7 342.6v12.8M637.8 342.6v7.6M648.9 342.6v7.6M660.0 342.6v7.6M671.1 342.6v12.8M682.2 342.6v7.6M693.3 342.6v7.6M704.4 342.6v7.6M715.5 342.6v12.8M726.6 342.6v7.6M737.7 342.6v7.6M748.8 342.6v7.6M759.9 342.6v12.8M771.0 342.6v7.6M782.1 342.6v7.6M793.2 342.6v7.6M804.3 342.6v12.8M815.4 342.6v7.6M826.5 342.6v7.6M837.6 342.6v7.6M848.7 342.6v12.8M859.8 342.6v7.6M870.9 342.6v8.2"/>
</g>
<g font-family='"Liberation Sans", Arial, Helvetica, sans-serif' font-weight="bold" font-size="17.2" text-anchor="middle" fill="#000">
<text x="628.1" y="372">0</text>
<text x="672.5" y="372">1</text>
<text x="716.9" y="372">2</text>
<text x="761.3" y="372">3</text>
<text x="805.7" y="372">4</text>
<text x="845.3" y="372" text-anchor="start">5(µm)</text>
</g>
<g font-family='"Liberation Sans", Arial, Helvetica, sans-serif' font-weight="bold" font-size="23" fill="#fff" text-anchor="middle">
<text x="749.5" y="307.8">N<tspan font-size="15" dy="5.3">epi1</tspan><tspan dy="-5.3">=8.0</tspan><tspan font-family='"Noto Sans CJK SC","Liberation Sans",sans-serif' font-weight="normal" font-size="25" dy="1">×</tspan><tspan dy="-1">10</tspan><tspan font-size="15" dy="-7.5">16</tspan><tspan dy="7.5">/cm</tspan><tspan font-size="15" dy="-7.5">3</tspan></text>
<text x="749.5" y="335.9">BV<tspan font-size="15" dy="4.3">max</tspan><tspan dy="-4.3">=5159V</tspan></text>
</g>
<path d="M331.9 14.8H382" stroke="#000" stroke-width="3.4" fill="none"/>
<path d="M391 14.8L380.6 9.7V20Z" fill="#000"/>
<path d="M333.7 13.1V68" stroke="#000" stroke-width="3.5" fill="none"/>
<path d="M334.2 76.4L329 66.2H339.5Z" fill="#000"/>
<g font-family='"Liberation Sans", Arial, Helvetica, sans-serif' font-weight="bold" fill="#000">
<text x="374" y="45.2" font-size="25.7">X</text>
<text x="344" y="74.1" font-size="25.7">Y</text>
<text x="548" y="39.3" font-size="24.5">B</text>
<text x="548" y="289" font-size="24.5">B’</text>
</g>
<rect x="576.1" y="14" width="6.8" height="280.6" fill="#000"/>
<g filter="url(#cbblur)">
<rect x="905.3" y="91.00" width="36.2" height="6.97" fill="#f00010" fill-opacity="0.3"/>
<rect x="905.3" y="91.00" width="36.2" height="5.07" fill="#f00010"/>
<rect x="905.3" y="97.97" width="36.2" height="6.97" fill="#ff2800" fill-opacity="0.3"/>
<rect x="905.3" y="97.97" width="36.2" height="5.07" fill="#ff2800"/>
<rect x="905.3" y="104.94" width="36.2" height="6.97" fill="#ff5000" fill-opacity="0.3"/>
<rect x="905.3" y="104.94" width="36.2" height="5.07" fill="#ff5000"/>
<rect x="905.3" y="111.91" width="36.2" height="6.97" fill="#ff7000" fill-opacity="0.3"/>
<rect x="905.3" y="111.91" width="36.2" height="5.07" fill="#ff7000"/>
<rect x="905.3" y="118.88" width="36.2" height="6.97" fill="#ff9000" fill-opacity="0.3"/>
<rect x="905.3" y="118.88" width="36.2" height="5.07" fill="#ff9000"/>
<rect x="905.3" y="125.85" width="36.2" height="6.97" fill="#ffa800" fill-opacity="0.3"/>
<rect x="905.3" y="125.85" width="36.2" height="5.07" fill="#ffa800"/>
<rect x="905.3" y="132.82" width="36.2" height="6.97" fill="#ffc000" fill-opacity="0.3"/>
<rect x="905.3" y="132.82" width="36.2" height="5.07" fill="#ffc000"/>
<rect x="905.3" y="139.79" width="36.2" height="6.97" fill="#ffd800" fill-opacity="0.3"/>
<rect x="905.3" y="139.79" width="36.2" height="5.07" fill="#ffd800"/>
<rect x="905.3" y="146.76" width="36.2" height="6.97" fill="#ffff00" fill-opacity="0.3"/>
<rect x="905.3" y="146.76" width="36.2" height="5.07" fill="#ffff00"/>
<rect x="905.3" y="153.74" width="36.2" height="6.97" fill="#e8ff00" fill-opacity="0.3"/>
<rect x="905.3" y="153.74" width="36.2" height="5.07" fill="#e8ff00"/>
<rect x="905.3" y="160.71" width="36.2" height="6.97" fill="#c8ff00" fill-opacity="0.3"/>
<rect x="905.3" y="160.71" width="36.2" height="5.07" fill="#c8ff00"/>
<rect x="905.3" y="167.68" width="36.2" height="6.97" fill="#a0ff00" fill-opacity="0.3"/>
<rect x="905.3" y="167.68" width="36.2" height="5.07" fill="#a0ff00"/>
<rect x="905.3" y="174.65" width="36.2" height="6.97" fill="#70ff00" fill-opacity="0.3"/>
<rect x="905.3" y="174.65" width="36.2" height="5.07" fill="#70ff00"/>
<rect x="905.3" y="181.62" width="36.2" height="6.97" fill="#30ff00" fill-opacity="0.3"/>
<rect x="905.3" y="181.62" width="36.2" height="5.07" fill="#30ff00"/>
<rect x="905.3" y="188.59" width="36.2" height="6.97" fill="#00ff70" fill-opacity="0.3"/>
<rect x="905.3" y="188.59" width="36.2" height="5.07" fill="#00ff70"/>
<rect x="905.3" y="195.56" width="36.2" height="6.97" fill="#00ff98" fill-opacity="0.3"/>
<rect x="905.3" y="195.56" width="36.2" height="5.07" fill="#00ff98"/>
<rect x="905.3" y="202.53" width="36.2" height="6.97" fill="#00ffb0" fill-opacity="0.3"/>
<rect x="905.3" y="202.53" width="36.2" height="5.07" fill="#00ffb0"/>
<rect x="905.3" y="209.50" width="36.2" height="6.97" fill="#00ffc8" fill-opacity="0.3"/>
<rect x="905.3" y="209.50" width="36.2" height="5.07" fill="#00ffc8"/>
<rect x="905.3" y="216.47" width="36.2" height="6.97" fill="#00ffe0" fill-opacity="0.3"/>
<rect x="905.3" y="216.47" width="36.2" height="5.07" fill="#00ffe0"/>
<rect x="905.3" y="223.44" width="36.2" height="6.97" fill="#00ffff" fill-opacity="0.3"/>
<rect x="905.3" y="223.44" width="36.2" height="5.07" fill="#00ffff"/>
<rect x="905.3" y="230.41" width="36.2" height="6.97" fill="#00e0ff" fill-opacity="0.3"/>
<rect x="905.3" y="230.41" width="36.2" height="5.07" fill="#00e0ff"/>
<rect x="905.3" y="237.38" width="36.2" height="6.97" fill="#00c0ff" fill-opacity="0.3"/>
<rect x="905.3" y="237.38" width="36.2" height="5.07" fill="#00c0ff"/>
<rect x="905.3" y="244.35" width="36.2" height="6.97" fill="#00a8ff" fill-opacity="0.3"/>
<rect x="905.3" y="244.35" width="36.2" height="5.07" fill="#00a8ff"/>
<rect x="905.3" y="251.32" width="36.2" height="6.97" fill="#0090ff" fill-opacity="0.3"/>
<rect x="905.3" y="251.32" width="36.2" height="5.07" fill="#0090ff"/>
<rect x="905.3" y="258.29" width="36.2" height="6.97" fill="#0078ff" fill-opacity="0.3"/>
<rect x="905.3" y="258.29" width="36.2" height="5.07" fill="#0078ff"/>
<rect x="905.3" y="265.26" width="36.2" height="6.97" fill="#0060ff" fill-opacity="0.3"/>
<rect x="905.3" y="265.26" width="36.2" height="5.07" fill="#0060ff"/>
<rect x="905.3" y="272.24" width="36.2" height="6.97" fill="#0000f0" fill-opacity="0.3"/>
<rect x="905.3" y="272.24" width="36.2" height="5.07" fill="#0000f0"/>
<rect x="905.3" y="279.21" width="36.2" height="6.97" fill="#5000ff" fill-opacity="0.3"/>
<rect x="905.3" y="279.21" width="36.2" height="5.07" fill="#5000ff"/>
<rect x="905.3" y="286.18" width="36.2" height="6.97" fill="#7800ff" fill-opacity="0.3"/>
<rect x="905.3" y="286.18" width="36.2" height="5.07" fill="#7800ff"/>
<rect x="905.3" y="293.15" width="36.2" height="6.97" fill="#9800ff" fill-opacity="0.3"/>
<rect x="905.3" y="293.15" width="36.2" height="5.07" fill="#9800ff"/>
<rect x="905.3" y="300.12" width="36.2" height="6.97" fill="#b800ff" fill-opacity="0.3"/>
<rect x="905.3" y="300.12" width="36.2" height="5.07" fill="#b800ff"/>
<rect x="905.3" y="307.09" width="36.2" height="6.97" fill="#d000ff" fill-opacity="0.3"/>
<rect x="905.3" y="307.09" width="36.2" height="5.07" fill="#d000ff"/>
<rect x="905.3" y="314.06" width="36.2" height="6.97" fill="#e800ff" fill-opacity="0.3"/>
<rect x="905.3" y="314.06" width="36.2" height="5.07" fill="#e800ff"/>
<rect x="905.3" y="321.03" width="36.2" height="6.97" fill="#ff00ff" fill-opacity="0.3"/>
<rect x="905.3" y="321.03" width="36.2" height="5.07" fill="#ff00ff"/>
</g>
<g font-family='"Liberation Sans", Arial, Helvetica, sans-serif' font-weight="bold" font-size="23.5" fill="#000">
<text x="951.2" y="111.7">3.00</text>
<text x="951.2" y="149.3">2.50</text>
<text x="951.2" y="186.9">2.00</text>
<text x="951.2" y="224.5">1.50</text>
<text x="951.2" y="262.1">1.00</text>
<text x="951.2" y="299.7">0.50</text>
<text x="951.2" y="337.3">0</text>
</g>
<g font-family='"Liberation Sans", Arial, Helvetica, sans-serif' font-weight="bold" font-size="23" fill="#000" text-anchor="middle">
<text x="942.5" y="45.8">Electric field</text>
<text x="943.3" y="73.1">(MV/cm)</text>
</g>
<text x="513" y="424.7" font-family='"Liberation Serif", "Times New Roman", serif' font-size="46" text-anchor="middle">(a)</text>
<g fill="none" stroke-width="5.6" stroke-linejoin="round" stroke-linecap="butt">
<path d="M131.8 670.4C132.5 671.2 134.8 673.6 135.9 675.3C137.0 676.9 137.8 678.5 138.4 680.3C139.1 682.0 139.4 683.9 139.8 685.8C140.2 687.7 140.4 689.6 140.6 691.7C140.8 693.8 140.9 696.1 141.1 698.4C141.3 700.7 141.5 703.2 141.8 705.6C142.1 708.0 142.4 710.5 142.9 712.8C143.4 715.1 143.9 717.4 144.7 719.4C145.5 721.4 146.4 723.3 147.5 724.8C148.6 726.3 149.8 727.7 151.2 728.6C152.5 729.5 154.1 730.1 155.6 730.2C157.1 730.3 158.7 729.8 160.3 729.1C161.9 728.4 163.4 727.0 165.0 725.9C166.6 724.8 168.1 723.5 169.6 722.2C171.1 721.0 172.7 719.7 174.2 718.4C175.7 717.1 177.2 715.7 178.7 714.3C180.2 712.9 181.6 711.6 183.1 710.2C184.6 708.8 186.1 707.4 187.5 706.0C188.9 704.6 190.4 703.2 191.8 701.7C193.2 700.2 194.7 698.8 196.2 697.3C197.7 695.8 199.1 694.5 200.6 693.0C202.1 691.5 203.5 690.1 205.0 688.6C206.5 687.1 208.0 685.7 209.5 684.3C211.0 682.9 212.6 681.5 214.1 680.1C215.6 678.7 217.1 677.4 218.7 676.0C220.2 674.6 221.8 673.3 223.4 672.0C225.0 670.7 226.7 669.5 228.3 668.2C230.0 667.0 231.6 665.7 233.3 664.5C235.0 663.3 236.7 662.2 238.4 661.1C240.1 660.0 241.9 658.9 243.7 657.8C245.5 656.7 247.2 655.7 249.0 654.7C250.8 653.7 252.7 652.7 254.5 651.8C256.3 650.9 258.1 650.0 260.0 649.1C261.9 648.2 263.8 647.5 265.7 646.7C267.6 645.9 269.5 645.1 271.4 644.4C273.3 643.7 275.2 642.9 277.2 642.3C279.1 641.6 281.1 641.1 283.1 640.5C285.1 639.9 287.0 639.4 289.0 638.9C291.0 638.4 292.9 637.9 294.9 637.5C296.9 637.1 298.9 636.7 300.9 636.3C302.9 635.9 304.9 635.6 306.9 635.3C308.9 635.0 311.0 634.8 313.0 634.6C315.0 634.4 317.0 634.2 319.0 634.1C321.0 634.0 323.1 633.9 325.1 633.9C327.1 633.9 329.2 633.8 331.2 633.9C333.2 634.0 335.2 634.1 337.2 634.2C339.2 634.3 341.3 634.5 343.3 634.7C345.3 634.9 347.3 635.2 349.3 635.5C351.3 635.8 353.2 636.1 355.2 636.5C357.2 636.9 359.2 637.3 361.2 637.8C363.2 638.3 365.1 638.8 367.0 639.4C368.9 640.0 371.0 640.6 372.9 641.3C374.8 642.0 376.7 642.6 378.6 643.4C380.5 644.1 382.4 644.9 384.3 645.8C386.2 646.6 388.0 647.5 389.9 648.5C391.8 649.5 393.6 650.5 395.4 651.5C397.2 652.5 398.9 653.6 400.7 654.7C402.5 655.8 404.2 657.0 406.0 658.3C407.8 659.5 409.5 661.1 411.2 662.2C412.9 663.4 415.4 664.7 416.3 665.2" stroke="#ff0000"/>
<path d="M416.3 665.2C417.0 664.6 418.7 662.7 420.4 661.6C422.1 660.5 424.3 659.5 426.3 658.5C428.3 657.5 430.2 656.5 432.2 655.6C434.2 654.7 436.2 653.8 438.2 653.0C440.2 652.2 442.2 651.4 444.2 650.7C446.2 650.0 448.1 649.2 450.1 648.6C452.1 648.0 454.1 647.3 456.1 646.8C458.1 646.2 460.1 645.8 462.1 645.3C464.1 644.8 466.1 644.4 468.1 644.0C470.1 643.6 472.1 643.3 474.1 643.0C476.1 642.7 478.1 642.4 480.1 642.2C482.1 642.0 484.0 641.8 486.0 641.6C488.0 641.5 490.0 641.4 492.0 641.3C494.0 641.2 496.0 641.1 498.0 641.1C500.0 641.1 501.9 641.1 503.9 641.2C505.9 641.3 507.9 641.5 509.9 641.6C511.9 641.8 513.8 641.9 515.8 642.1C517.8 642.3 519.7 642.5 521.7 642.8C523.7 643.1 525.6 643.4 527.6 643.7C529.6 644.0 531.5 644.4 533.5 644.8C535.5 645.2 537.4 645.6 539.3 646.1C541.2 646.6 543.2 647.1 545.1 647.6C547.0 648.1 549.0 648.6 550.9 649.2C552.8 649.8 554.8 650.4 556.7 651.0C558.6 651.6 560.5 652.3 562.4 653.0C564.3 653.7 566.2 654.4 568.1 655.1C570.0 655.8 571.9 656.6 573.8 657.4C575.7 658.2 577.5 659.0 579.4 659.8C581.3 660.6 583.1 661.4 585.0 662.3C586.9 663.2 588.8 664.1 590.6 665.0C592.5 665.9 594.3 666.8 596.1 667.8C597.9 668.8 599.7 669.7 601.5 670.7C603.3 671.7 605.1 672.8 606.9 673.8C608.7 674.8 610.5 675.8 612.3 676.9C614.1 678.0 615.8 679.1 617.6 680.2C619.4 681.3 621.1 682.4 622.9 683.5C624.6 684.6 626.4 685.8 628.1 687.0C629.8 688.2 631.5 689.3 633.2 690.5C634.9 691.7 636.6 692.9 638.3 694.1C640.0 695.3 641.6 696.6 643.3 697.8C645.0 699.0 646.6 700.2 648.3 701.5C649.9 702.8 651.6 704.1 653.2 705.4C654.8 706.7 656.4 708.0 658.0 709.3C659.6 710.6 661.1 711.9 662.7 713.2C664.3 714.5 665.8 715.9 667.4 717.2C669.0 718.6 670.6 719.9 672.1 721.3C673.6 722.7 675.1 724.1 676.6 725.5C678.1 726.9 679.6 728.3 681.1 729.7C682.6 731.1 684.0 732.5 685.5 734.0C687.0 735.5 688.5 736.9 689.9 738.4C691.3 739.9 692.7 741.3 694.1 742.8C695.5 744.3 696.9 745.8 698.3 747.3C699.7 748.8 701.1 750.3 702.5 751.8C703.9 753.3 705.2 754.9 706.5 756.4C707.8 757.9 709.2 759.5 710.5 761.0C711.8 762.5 713.1 764.1 714.4 765.7C715.7 767.3 717.0 768.9 718.2 770.5C719.5 772.1 720.7 773.7 721.9 775.3C723.1 776.9 724.4 778.6 725.6 780.2C726.8 781.8 727.9 783.5 729.1 785.1C730.3 786.8 731.4 788.4 732.6 790.1C733.8 791.8 735.0 793.4 736.1 795.1C737.2 796.8 738.3 798.5 739.4 800.2C740.5 801.9 741.5 803.7 742.6 805.4C743.7 807.1 744.8 808.9 745.8 810.6C746.8 812.3 747.8 814.0 748.8 815.8C749.8 817.5 750.8 819.3 751.7 821.1C752.7 822.9 753.6 824.7 754.5 826.5C755.4 828.3 756.3 830.2 757.2 832.0C758.1 833.8 758.9 835.7 759.7 837.5C760.5 839.3 761.3 841.1 762.1 843.0C762.9 844.9 763.7 846.8 764.4 848.7C765.1 850.6 765.8 852.5 766.5 854.4C767.2 856.3 767.9 858.3 768.5 860.2C769.1 862.1 769.7 864.0 770.3 866.0C770.9 868.0 771.4 870.0 771.9 872.0C772.4 874.0 773.1 876.3 773.4 878.0C773.7 879.7 773.7 881.6 773.7 882.3" stroke="#ff0000"/>
<path d="M138.8 607.6C139.0 608.5 139.5 611.3 139.8 613.2C140.1 615.1 140.3 616.9 140.4 618.9C140.5 620.9 140.6 623.0 140.6 625.1C140.6 627.2 140.6 629.5 140.7 631.7C140.8 633.9 140.8 636.1 140.9 638.4C141.0 640.6 141.1 643.0 141.3 645.2C141.5 647.4 141.7 649.6 142.1 651.8C142.5 654.0 142.9 656.2 143.6 658.2C144.2 660.2 145.1 662.3 146.0 664.1C146.9 665.9 148.1 667.8 149.3 669.2C150.5 670.7 151.9 671.9 153.3 672.8C154.7 673.7 156.3 674.3 157.9 674.4C159.5 674.5 161.2 674.0 162.9 673.5C164.6 673.0 166.4 672.1 168.1 671.3C169.8 670.5 171.5 669.7 173.2 668.8C174.9 667.9 176.7 667.1 178.4 666.1C180.2 665.1 181.9 664.0 183.7 663.0C185.5 662.0 187.2 661.0 189.0 659.9C190.8 658.8 192.6 657.7 194.4 656.6C196.2 655.5 198.0 654.4 199.8 653.3C201.6 652.2 203.5 651.2 205.3 650.1C207.1 649.0 209.0 647.9 210.8 646.9C212.7 645.9 214.5 644.8 216.4 643.9C218.3 643.0 220.1 642.1 222.0 641.2C223.9 640.3 225.8 639.5 227.7 638.7C229.6 637.9 231.6 637.2 233.5 636.6C235.4 636.0 237.4 635.3 239.4 634.8C241.4 634.3 243.3 633.8 245.3 633.4C247.3 633.0 249.2 632.6 251.2 632.3C253.2 632.0 255.2 631.7 257.2 631.5C259.2 631.3 261.2 631.2 263.2 631.1C265.2 631.0 267.3 631.0 269.3 631.0C271.3 631.0 273.3 631.0 275.3 631.1C277.3 631.2 279.3 631.4 281.3 631.6C283.3 631.8 285.4 632.0 287.4 632.3C289.4 632.6 291.4 632.9 293.4 633.3C295.4 633.7 297.4 634.0 299.4 634.5C301.4 635.0 303.4 635.6 305.4 636.1C307.4 636.6 309.3 637.2 311.3 637.8C313.3 638.4 315.2 639.1 317.2 639.8C319.2 640.5 321.2 641.2 323.1 642.0C325.0 642.8 326.9 643.6 328.8 644.5C330.7 645.4 332.6 646.2 334.5 647.1C336.4 648.0 338.3 648.9 340.2 649.9C342.1 650.9 343.9 652.0 345.7 653.0C347.5 654.0 349.3 655.1 351.1 656.2C352.9 657.3 354.7 658.5 356.5 659.6C358.3 660.8 360.0 661.9 361.7 663.1C363.4 664.3 365.1 665.5 366.8 666.8C368.5 668.1 370.1 669.4 371.7 670.7C373.3 672.0 375.0 673.2 376.6 674.6C378.2 676.0 379.8 677.4 381.3 678.8C382.8 680.2 384.3 681.6 385.8 683.0C387.3 684.4 388.7 685.8 390.1 687.3C391.5 688.8 392.9 690.2 394.3 691.7C395.7 693.2 397.0 694.8 398.3 696.3C399.6 697.8 400.9 699.3 402.2 700.9C403.4 702.5 404.6 704.0 405.8 705.6C407.0 707.2 408.1 708.7 409.2 710.3C410.3 711.9 411.2 713.4 412.4 715.1C413.6 716.8 415.6 719.5 416.3 720.4" stroke="#00ff00"/>
<path d="M416.3 720.4C416.8 719.8 418.3 718.3 419.5 716.8C420.7 715.3 422.1 713.0 423.5 711.2C424.9 709.4 426.2 707.6 427.6 705.9C429.0 704.2 430.4 702.4 431.9 700.8C433.3 699.1 434.8 697.6 436.3 696.0C437.8 694.4 439.3 692.9 440.8 691.4C442.3 689.9 443.9 688.5 445.5 687.1C447.1 685.7 448.7 684.3 450.3 683.0C451.9 681.7 453.6 680.4 455.2 679.1C456.8 677.9 458.5 676.7 460.2 675.5C461.9 674.3 463.6 673.2 465.3 672.1C467.0 671.0 468.8 669.9 470.5 668.9C472.2 667.9 474.0 666.8 475.8 665.9C477.6 665.0 479.3 664.1 481.1 663.2C482.9 662.3 484.8 661.5 486.6 660.7C488.4 659.9 490.2 659.2 492.1 658.5C494.0 657.8 495.8 657.0 497.7 656.4C499.6 655.8 501.5 655.2 503.4 654.6C505.3 654.0 507.2 653.4 509.1 652.9C511.0 652.4 513.0 651.9 514.9 651.5C516.8 651.1 518.8 650.7 520.7 650.3C522.7 649.9 524.6 649.6 526.6 649.3C528.6 649.0 530.5 648.7 532.5 648.5C534.5 648.3 536.5 648.1 538.5 647.9C540.5 647.7 542.5 647.6 544.5 647.5C546.5 647.4 548.4 647.3 550.4 647.3C552.4 647.2 554.5 647.2 556.5 647.2C558.5 647.2 560.5 647.3 562.5 647.4C564.5 647.5 566.5 647.6 568.5 647.7C570.5 647.9 572.5 648.1 574.5 648.3C576.5 648.5 578.6 648.7 580.6 649.0C582.6 649.3 584.6 649.6 586.6 649.9C588.6 650.2 590.6 650.6 592.6 651.0C594.6 651.4 596.6 651.8 598.6 652.2C600.6 652.6 602.5 653.1 604.5 653.6C606.5 654.1 608.4 654.6 610.4 655.2C612.4 655.8 614.3 656.4 616.3 657.0C618.3 657.6 620.2 658.2 622.2 658.9C624.2 659.6 626.1 660.3 628.0 661.0C629.9 661.7 631.8 662.4 633.7 663.2C635.6 664.0 637.5 664.8 639.4 665.6C641.3 666.4 643.1 667.2 645.0 668.1C646.9 669.0 648.8 669.9 650.6 670.8C652.4 671.7 654.2 672.7 656.0 673.7C657.8 674.7 659.6 675.7 661.4 676.7C663.2 677.7 665.0 678.8 666.8 679.8C668.6 680.8 670.3 681.9 672.0 683.0C673.7 684.1 675.5 685.2 677.2 686.4C678.9 687.5 680.6 688.7 682.3 689.9C684.0 691.1 685.6 692.3 687.3 693.5C688.9 694.7 690.6 695.9 692.2 697.2C693.8 698.5 695.5 699.8 697.1 701.1C698.7 702.4 700.3 703.7 701.9 705.0C703.5 706.3 705.0 707.7 706.6 709.0C708.2 710.3 709.8 711.6 711.3 713.0C712.8 714.4 714.4 715.8 715.9 717.2C717.4 718.6 718.9 720.0 720.4 721.4C721.9 722.8 723.4 724.3 724.9 725.7C726.4 727.1 727.8 728.5 729.2 730.0C730.6 731.5 732.1 732.9 733.5 734.4C734.9 735.9 736.3 737.4 737.7 738.9C739.1 740.4 740.5 741.9 741.9 743.4C743.3 744.9 744.6 746.5 745.9 748.0C747.2 749.5 748.5 751.0 749.8 752.6C751.1 754.2 752.4 755.8 753.7 757.4C755.0 759.0 756.3 760.6 757.5 762.2C758.7 763.8 759.9 765.4 761.1 767.0C762.3 768.6 763.4 770.2 764.6 771.9C765.8 773.5 767.0 775.2 768.1 776.9C769.2 778.6 770.3 780.2 771.4 781.9C772.5 783.6 773.5 785.3 774.6 787.0C775.7 788.7 776.7 790.5 777.7 792.2C778.7 793.9 779.7 795.6 780.7 797.4C781.7 799.2 782.6 801.0 783.5 802.8C784.4 804.6 785.3 806.3 786.2 808.1C787.1 809.9 788.0 811.8 788.8 813.6C789.6 815.4 790.4 817.2 791.2 819.1C792.0 821.0 792.8 822.8 793.5 824.7C794.2 826.6 795.0 828.4 795.7 830.3C796.4 832.2 797.1 834.2 797.7 836.1C798.3 838.0 798.9 840.0 799.5 841.9C800.1 843.8 800.7 845.8 801.2 847.8C801.7 849.8 802.2 851.8 802.7 853.8C803.2 855.8 803.7 857.8 804.1 859.8C804.5 861.8 804.9 863.8 805.3 865.9C805.7 868.0 806.0 870.0 806.3 872.1C806.6 874.2 806.9 876.7 807.2 878.4C807.5 880.1 808.0 881.6 808.2 882.3" stroke="#00ff00"/>
<path d="M138.8 568.5C139.0 569.5 139.4 572.4 139.7 574.3C140.0 576.2 140.2 578.0 140.5 579.9C140.8 581.8 141.0 583.9 141.2 585.9C141.4 587.9 141.6 590.0 141.8 592.1C142.0 594.2 142.2 596.4 142.4 598.5C142.6 600.6 142.9 602.8 143.2 605.0C143.5 607.2 143.9 609.4 144.3 611.5C144.7 613.6 145.2 615.7 145.8 617.8C146.4 619.9 146.9 621.9 147.7 623.9C148.4 625.9 149.4 627.7 150.3 629.5C151.2 631.3 152.2 633.0 153.3 634.5C154.4 636.0 155.7 637.5 157.0 638.7C158.3 639.9 159.8 640.9 161.3 641.7C162.8 642.5 164.5 643.0 166.2 643.4C167.9 643.8 169.6 643.9 171.4 643.8C173.2 643.7 175.1 643.4 177.0 643.0C178.9 642.6 180.8 642.0 182.8 641.3C184.8 640.6 186.8 639.8 188.8 639.0C190.8 638.2 192.9 637.3 194.9 636.5C196.9 635.7 199.0 634.9 201.0 634.2C203.0 633.5 205.0 632.8 207.1 632.3C209.2 631.8 211.2 631.3 213.3 630.9C215.4 630.5 217.4 630.2 219.4 630.0C221.4 629.8 223.4 629.8 225.4 629.7C227.4 629.7 229.5 629.6 231.5 629.7C233.5 629.8 235.4 629.9 237.4 630.1C239.4 630.3 241.4 630.6 243.4 630.9C245.4 631.2 247.4 631.6 249.3 632.0C251.2 632.4 253.2 632.9 255.1 633.4C257.0 633.9 258.9 634.5 260.8 635.1C262.7 635.7 264.6 636.2 266.5 636.9C268.4 637.5 270.2 638.3 272.1 639.0C274.0 639.7 275.8 640.5 277.6 641.3C279.4 642.1 281.2 642.9 283.0 643.7C284.8 644.5 286.6 645.4 288.4 646.3C290.2 647.2 291.9 648.2 293.7 649.2C295.4 650.2 297.2 651.2 298.9 652.2C300.6 653.2 302.3 654.2 304.0 655.3C305.7 656.4 307.3 657.5 309.0 658.6C310.7 659.7 312.4 660.9 314.0 662.1C315.6 663.3 317.3 664.5 318.9 665.7C320.5 666.9 322.0 668.2 323.6 669.5C325.2 670.8 326.7 672.1 328.3 673.4C329.9 674.7 331.5 676.0 333.0 677.4C334.5 678.8 336.0 680.2 337.5 681.6C339.0 683.0 340.4 684.4 341.9 685.8C343.4 687.2 344.9 688.7 346.3 690.2C347.7 691.7 349.1 693.2 350.5 694.7C351.9 696.2 353.3 697.8 354.7 699.3C356.1 700.8 357.4 702.3 358.7 703.9C360.0 705.5 361.4 707.1 362.7 708.7C364.0 710.3 365.3 711.9 366.6 713.5C367.9 715.1 369.1 716.8 370.4 718.4C371.6 720.0 372.9 721.7 374.1 723.4C375.3 725.1 376.5 726.8 377.7 728.5C378.9 730.2 380.0 731.9 381.2 733.6C382.4 735.3 383.5 737.0 384.6 738.7C385.7 740.4 386.8 742.2 387.9 743.9C389.0 745.6 390.1 747.4 391.1 749.1C392.2 750.8 393.2 752.5 394.2 754.3C395.2 756.0 396.2 757.8 397.2 759.6C398.2 761.4 399.2 763.1 400.1 764.9C401.1 766.7 402.0 768.4 402.9 770.2C403.8 772.0 404.7 773.7 405.6 775.5C406.5 777.3 407.4 779.0 408.2 780.8C409.0 782.6 409.8 784.3 410.6 786.1C411.4 787.9 412.0 789.6 413.0 791.4C414.0 793.2 416.1 795.8 416.7 796.7" stroke="#0000ff"/>
<path d="M416.7 796.7C417.4 796.0 419.6 794.3 420.7 792.7C421.8 791.1 422.2 788.8 423.0 786.9C423.8 785.0 424.7 783.2 425.6 781.3C426.5 779.4 427.3 777.6 428.2 775.7C429.1 773.9 430.1 772.0 431.1 770.2C432.1 768.4 433.1 766.5 434.1 764.7C435.1 762.9 436.1 761.1 437.2 759.4C438.3 757.6 439.4 755.9 440.5 754.2C441.6 752.5 442.8 750.7 443.9 749.0C445.0 747.3 446.2 745.7 447.4 744.0C448.6 742.3 449.8 740.6 451.1 739.0C452.4 737.4 453.7 735.8 455.0 734.2C456.3 732.6 457.6 731.1 458.9 729.5C460.2 727.9 461.6 726.3 463.0 724.8C464.4 723.3 465.7 721.8 467.1 720.3C468.5 718.8 469.9 717.4 471.4 716.0C472.8 714.6 474.3 713.1 475.8 711.7C477.3 710.3 478.8 708.9 480.3 707.5C481.8 706.1 483.4 704.8 485.0 703.5C486.6 702.2 488.1 700.9 489.7 699.6C491.3 698.3 492.9 697.1 494.5 695.9C496.1 694.7 497.8 693.4 499.4 692.2C501.0 691.0 502.6 689.8 504.3 688.7C506.0 687.6 507.7 686.5 509.4 685.4C511.1 684.3 512.8 683.2 514.5 682.2C516.2 681.2 518.0 680.1 519.8 679.1C521.5 678.1 523.2 677.2 525.0 676.2C526.8 675.2 528.6 674.3 530.4 673.4C532.2 672.5 534.0 671.6 535.8 670.8C537.6 670.0 539.5 669.2 541.3 668.4C543.1 667.6 544.9 666.9 546.8 666.1C548.6 665.4 550.5 664.6 552.4 663.9C554.3 663.2 556.1 662.6 558.0 662.0C559.9 661.4 561.8 660.8 563.7 660.2C565.6 659.6 567.5 659.0 569.4 658.5C571.3 658.0 573.2 657.6 575.1 657.1C577.0 656.6 579.0 656.2 580.9 655.8C582.8 655.4 584.8 655.0 586.7 654.7C588.7 654.4 590.7 654.1 592.6 653.8C594.5 653.5 596.5 653.3 598.4 653.1C600.3 652.9 602.3 652.6 604.3 652.5C606.3 652.4 608.2 652.3 610.2 652.2C612.2 652.1 614.2 652.0 616.1 652.0C618.0 652.0 620.0 652.1 621.9 652.1C623.8 652.1 625.8 652.2 627.8 652.3C629.8 652.4 631.7 652.6 633.7 652.8C635.7 653.0 637.6 653.1 639.6 653.4C641.6 653.6 643.5 654.0 645.5 654.3C647.5 654.6 649.4 655.0 651.4 655.4C653.4 655.8 655.3 656.2 657.2 656.7C659.1 657.2 661.1 657.7 663.0 658.2C664.9 658.7 666.9 659.3 668.8 659.9C670.7 660.5 672.7 661.2 674.6 661.9C676.5 662.6 678.4 663.2 680.3 664.0C682.2 664.8 684.1 665.6 686.0 666.5C687.9 667.4 689.8 668.2 691.7 669.1C693.6 670.0 695.4 671.0 697.3 671.9C699.1 672.8 701.0 673.8 702.8 674.8C704.6 675.8 706.5 676.8 708.3 677.9C710.1 679.0 711.9 680.1 713.7 681.2C715.5 682.3 717.2 683.5 719.0 684.6C720.8 685.8 722.5 686.9 724.2 688.1C725.9 689.3 727.6 690.4 729.3 691.6C731.0 692.8 732.7 694.0 734.4 695.3C736.1 696.5 737.7 697.8 739.3 699.1C740.9 700.4 742.5 701.7 744.1 703.0C745.7 704.3 747.2 705.6 748.7 707.0C750.2 708.4 751.7 709.7 753.2 711.1C754.7 712.5 756.2 713.9 757.6 715.3C759.0 716.7 760.5 718.1 761.9 719.6C763.3 721.1 764.7 722.5 766.0 724.0C767.3 725.5 768.6 726.9 769.9 728.4C771.2 729.9 772.5 731.5 773.7 733.0C774.9 734.5 776.1 736.1 777.3 737.7C778.5 739.3 779.7 740.9 780.8 742.5C781.9 744.1 783.0 745.8 784.1 747.4C785.2 749.0 786.3 750.6 787.3 752.3C788.3 754.0 789.3 755.7 790.3 757.4C791.3 759.1 792.2 760.9 793.2 762.6C794.2 764.4 795.1 766.1 796.0 767.9C796.9 769.7 797.8 771.5 798.6 773.3C799.4 775.1 800.2 777.0 801.0 778.8C801.8 780.6 802.6 782.4 803.4 784.3C804.2 786.1 804.9 788.0 805.6 789.9C806.3 791.8 807.0 793.7 807.7 795.6C808.4 797.5 809.1 799.5 809.7 801.4C810.4 803.3 811.0 805.2 811.6 807.1C812.2 809.0 812.8 811.0 813.4 813.0C814.0 815.0 814.5 816.9 815.1 818.9C815.7 820.9 816.2 822.8 816.7 824.8C817.2 826.8 817.7 828.7 818.2 830.7C818.7 832.7 819.2 834.7 819.7 836.7C820.2 838.7 820.7 840.7 821.1 842.7C821.5 844.7 822.0 846.7 822.4 848.7C822.8 850.7 823.3 852.7 823.7 854.7C824.1 856.7 824.5 858.7 824.9 860.7C825.3 862.7 825.7 864.6 826.1 866.6C826.5 868.6 826.8 870.6 827.2 872.6C827.6 874.6 827.9 876.9 828.3 878.5C828.6 880.1 829.1 881.7 829.3 882.3" stroke="#0000ff"/>
<path d="M138.7 511.8C138.7 512.8 138.8 515.9 138.8 518.0C138.9 520.1 138.9 522.2 139.0 524.2C139.1 526.2 139.2 528.3 139.3 530.3C139.4 532.3 139.6 534.3 139.8 536.3C140.0 538.3 140.1 540.2 140.3 542.2C140.5 544.2 140.8 546.1 141.0 548.1C141.2 550.1 141.5 552.0 141.7 554.0C141.9 556.0 142.2 558.0 142.4 560.0C142.7 562.0 142.9 563.9 143.2 565.9C143.5 567.9 143.8 570.0 144.0 572.0C144.2 574.0 144.4 576.1 144.7 578.1C144.9 580.1 145.2 582.2 145.5 584.3C145.8 586.4 146.1 588.4 146.4 590.5C146.7 592.6 147.0 594.7 147.4 596.7C147.8 598.7 148.3 600.7 148.8 602.7C149.3 604.7 149.9 606.7 150.6 608.6C151.3 610.5 152.1 612.3 152.9 614.1C153.8 615.9 154.6 617.7 155.7 619.4C156.8 621.1 157.9 622.6 159.2 624.1C160.5 625.6 161.8 627.0 163.3 628.1C164.8 629.2 166.4 630.3 168.2 631.0C169.9 631.7 171.9 632.1 173.8 632.5C175.8 632.9 177.8 633.0 179.9 633.1C182.0 633.2 184.1 633.2 186.2 633.3C188.3 633.4 190.4 633.4 192.4 633.5C194.4 633.6 196.4 633.8 198.4 634.1C200.4 634.4 202.3 634.7 204.2 635.1C206.1 635.5 208.1 635.9 210.0 636.4C211.9 636.9 213.8 637.4 215.7 637.9C217.6 638.4 219.6 639.0 221.5 639.6C223.4 640.2 225.5 640.8 227.4 641.5C229.3 642.2 231.3 642.9 233.2 643.6C235.1 644.3 237.1 645.0 239.0 645.8C240.9 646.6 242.8 647.4 244.6 648.2C246.4 649.0 248.3 649.9 250.1 650.8C251.9 651.7 253.7 652.6 255.5 653.6C257.3 654.6 259.1 655.6 260.8 656.6C262.5 657.6 264.2 658.6 265.9 659.7C267.6 660.8 269.2 661.9 270.9 663.0C272.6 664.1 274.3 665.2 275.9 666.4C277.5 667.6 279.0 668.8 280.6 670.0C282.2 671.2 283.8 672.5 285.3 673.8C286.9 675.1 288.4 676.4 289.9 677.7C291.4 679.0 292.9 680.4 294.4 681.7C295.9 683.1 297.4 684.4 298.8 685.8C300.2 687.2 301.7 688.6 303.1 690.0C304.5 691.4 305.9 692.9 307.3 694.4C308.7 695.9 310.0 697.3 311.4 698.8C312.8 700.3 314.1 701.8 315.4 703.3C316.7 704.8 318.1 706.4 319.4 708.0C320.7 709.6 322.0 711.1 323.3 712.7C324.6 714.3 325.9 715.8 327.1 717.4C328.4 719.0 329.6 720.7 330.8 722.3C332.0 723.9 333.3 725.6 334.5 727.2C335.7 728.8 336.9 730.5 338.1 732.1C339.3 733.8 340.4 735.4 341.6 737.1C342.8 738.8 344.0 740.5 345.1 742.2C346.2 743.9 347.4 745.5 348.5 747.2C349.6 748.9 350.8 750.6 351.9 752.3C353.0 754.0 354.2 755.8 355.3 757.5C356.4 759.2 357.4 760.9 358.5 762.6C359.6 764.3 360.7 766.0 361.8 767.7C362.9 769.4 363.8 771.2 364.9 772.9C365.9 774.6 367.1 776.4 368.1 778.1C369.1 779.9 370.1 781.6 371.1 783.4C372.1 785.1 373.1 786.9 374.1 788.6C375.1 790.4 376.1 792.1 377.0 793.9C377.9 795.7 378.9 797.5 379.8 799.3C380.7 801.1 381.7 802.8 382.6 804.6C383.5 806.4 384.3 808.3 385.2 810.1C386.1 811.9 386.9 813.7 387.8 815.5C388.7 817.3 389.5 819.2 390.3 821.0C391.1 822.8 391.8 824.6 392.6 826.5C393.4 828.4 394.1 830.2 394.9 832.1C395.6 834.0 396.4 835.8 397.1 837.7C397.8 839.6 398.4 841.5 399.1 843.4C399.8 845.3 400.5 847.3 401.1 849.2C401.7 851.1 402.3 853.0 402.9 854.9C403.5 856.8 404.1 858.8 404.6 860.8C405.2 862.8 405.7 864.7 406.2 866.7C406.7 868.7 407.2 870.6 407.7 872.6C408.2 874.6 408.6 877.0 409.0 878.6C409.4 880.2 409.8 881.7 409.9 882.3" stroke="#00ffff"/>
<path d="M418.8 882.3C419.0 881.6 419.4 879.9 419.9 878.2C420.4 876.6 421.1 874.3 421.8 872.4C422.5 870.5 423.1 868.6 423.8 866.7C424.5 864.8 425.2 862.9 425.9 861.0C426.6 859.1 427.4 857.2 428.1 855.3C428.9 853.4 429.6 851.6 430.4 849.7C431.2 847.8 432.0 846.0 432.8 844.1C433.6 842.2 434.5 840.4 435.3 838.6C436.1 836.8 437.0 834.9 437.9 833.1C438.8 831.3 439.7 829.4 440.6 827.6C441.5 825.8 442.5 824.0 443.5 822.2C444.5 820.4 445.4 818.6 446.4 816.8C447.4 815.0 448.3 813.2 449.3 811.4C450.3 809.6 451.3 807.9 452.4 806.1C453.4 804.3 454.5 802.5 455.6 800.8C456.7 799.0 457.7 797.3 458.8 795.6C459.9 793.9 461.1 792.1 462.2 790.4C463.3 788.7 464.5 786.9 465.6 785.2C466.7 783.5 467.8 781.8 469.0 780.1C470.2 778.4 471.4 776.7 472.6 775.0C473.8 773.3 475.0 771.7 476.2 770.0C477.4 768.3 478.6 766.6 479.9 765.0C481.1 763.4 482.4 761.7 483.7 760.1C485.0 758.5 486.3 756.8 487.6 755.2C488.9 753.6 490.2 751.9 491.5 750.3C492.8 748.7 494.1 747.2 495.5 745.6C496.9 744.0 498.2 742.5 499.6 740.9C501.0 739.3 502.4 737.7 503.8 736.2C505.2 734.7 506.6 733.2 508.0 731.7C509.4 730.2 510.8 728.7 512.3 727.2C513.8 725.7 515.2 724.3 516.7 722.8C518.2 721.3 519.7 719.8 521.2 718.4C522.7 717.0 524.2 715.6 525.7 714.2C527.2 712.8 528.8 711.5 530.4 710.1C532.0 708.7 533.5 707.3 535.1 706.0C536.7 704.7 538.2 703.4 539.8 702.1C541.4 700.8 543.1 699.5 544.7 698.2C546.3 696.9 548.0 695.7 549.6 694.5C551.2 693.3 552.9 692.1 554.6 690.9C556.3 689.7 558.0 688.5 559.7 687.4C561.4 686.2 563.1 685.1 564.8 684.0C566.5 682.9 568.2 681.8 570.0 680.7C571.8 679.6 573.5 678.6 575.3 677.6C577.1 676.6 578.9 675.6 580.7 674.6C582.5 673.6 584.3 672.7 586.1 671.8C587.9 670.9 589.8 670.0 591.6 669.1C593.4 668.2 595.2 667.4 597.1 666.6C599.0 665.8 600.8 665.0 602.7 664.2C604.6 663.5 606.5 662.8 608.4 662.1C610.3 661.4 612.2 660.7 614.1 660.1C616.0 659.5 618.0 658.8 619.9 658.3C621.8 657.8 623.8 657.3 625.7 656.8C627.6 656.3 629.5 655.8 631.5 655.4C633.5 655.0 635.4 654.6 637.4 654.3C639.4 653.9 641.4 653.6 643.4 653.3C645.4 653.0 647.4 652.8 649.4 652.6C651.4 652.4 653.4 652.3 655.4 652.2C657.4 652.1 659.5 652.0 661.5 652.0C663.5 652.0 665.6 652.0 667.6 652.0C669.6 652.0 671.7 652.1 673.7 652.3C675.8 652.4 677.9 652.7 679.9 652.9C681.9 653.1 683.9 653.4 686.0 653.7C688.1 654.0 690.2 654.4 692.3 654.8C694.4 655.2 696.4 655.8 698.5 656.3C700.6 656.8 702.6 657.4 704.7 658.0C706.8 658.6 708.9 659.3 711.0 660.0C713.1 660.7 715.3 661.7 717.3 662.3C719.2 662.9 721.8 663.5 722.7 663.7" stroke="#00ffff"/>
<path d="M730.2 670.0C731.2 670.0 734.5 669.5 736.5 669.9C738.5 670.3 740.4 671.4 742.2 672.3C744.1 673.2 745.9 674.1 747.6 675.1C749.4 676.1 751.0 677.2 752.7 678.3C754.4 679.4 756.1 680.6 757.7 681.8C759.3 683.0 760.9 684.4 762.4 685.7C763.9 687.0 765.4 688.4 766.9 689.8C768.4 691.2 769.8 692.7 771.2 694.2C772.6 695.7 774.0 697.2 775.4 698.8C776.8 700.4 778.0 702.0 779.3 703.6C780.6 705.2 781.9 706.8 783.1 708.5C784.3 710.2 785.5 711.9 786.7 713.6C787.9 715.3 789.1 717.1 790.2 718.9C791.3 720.7 792.4 722.5 793.5 724.3C794.6 726.1 795.6 728.0 796.6 729.8C797.6 731.6 798.6 733.4 799.6 735.3C800.6 737.2 801.6 739.1 802.5 741.0C803.4 742.9 804.3 744.7 805.2 746.6C806.1 748.5 806.9 750.5 807.8 752.4C808.6 754.3 809.5 756.2 810.3 758.1C811.1 760.0 811.9 762.0 812.7 763.9C813.5 765.8 814.2 767.8 814.9 769.7C815.6 771.6 816.4 773.5 817.1 775.5C817.8 777.5 818.4 779.4 819.1 781.4C819.8 783.4 820.5 785.3 821.1 787.3C821.7 789.3 822.3 791.2 822.9 793.2C823.5 795.2 824.1 797.1 824.7 799.1C825.3 801.1 825.9 803.1 826.4 805.1C826.9 807.1 827.5 809.1 828.0 811.1C828.5 813.1 829.0 815.1 829.5 817.1C830.0 819.1 830.5 821.1 831.0 823.1C831.5 825.1 831.8 827.1 832.3 829.1C832.8 831.1 833.2 833.2 833.7 835.2C834.2 837.2 834.6 839.3 835.0 841.3C835.4 843.3 835.8 845.3 836.2 847.4C836.6 849.5 837.0 851.5 837.4 853.6C837.8 855.7 838.1 857.7 838.5 859.7C838.9 861.8 839.2 863.8 839.6 865.9C840.0 868.0 840.4 870.0 840.7 872.1C841.1 874.2 841.4 876.6 841.7 878.3C842.1 880.0 842.6 881.6 842.8 882.3" stroke="#00ffff"/>
</g>
<path d="M772 884.3H918" stroke="#ff0000" stroke-width="1.2"/>
<path d="M416.2 475.3V880" stroke="#000" stroke-width="4.4" stroke-dasharray="9.8 6.7" fill="none"/>
<rect x="135.6" y="467.3" width="868.1" height="414.1" fill="none" stroke="#000" stroke-width="5.9"/>
<path d="M135.3 881.4v-16.5M152.7 881.4v-8.6M170.0 881.4v-8.6M187.4 881.4v-8.6M204.7 881.4v-8.6M222.1 881.4v-16.5M239.5 881.4v-8.6M256.8 881.4v-8.6M274.2 881.4v-8.6M291.5 881.4v-8.6M308.9 881.4v-16.5M326.3 881.4v-8.6M343.6 881.4v-8.6M361.0 881.4v-8.6M378.3 881.4v-8.6M395.7 881.4v-16.5M413.1 881.4v-8.6M430.4 881.4v-8.6M447.8 881.4v-8.6M465.1 881.4v-8.6M482.5 881.4v-16.5M499.9 881.4v-8.6M517.2 881.4v-8.6M534.6 881.4v-8.6M551.9 881.4v-8.6M569.3 881.4v-16.5M586.7 881.4v-8.6M604.0 881.4v-8.6M621.4 881.4v-8.6M638.7 881.4v-8.6M656.1 881.4v-16.5M673.5 881.4v-8.6M690.8 881.4v-8.6M708.2 881.4v-8.6M725.5 881.4v-8.6M742.9 881.4v-16.5M760.3 881.4v-8.6M777.6 881.4v-8.6M795.0 881.4v-8.6M812.3 881.4v-8.6M829.7 881.4v-16.5M847.1 881.4v-8.6M864.4 881.4v-8.6M881.8 881.4v-8.6M899.1 881.4v-8.6M916.5 881.4v-16.5M933.9 881.4v-8.6M951.2 881.4v-8.6M968.6 881.4v-8.6M985.9 881.4v-8.6M1003.3 881.4v-16.5" stroke="#000" stroke-width="5.4" fill="none"/>
<path d="M135.6 882.0h16.6M135.6 868.1h8.4M135.6 854.3h8.4M135.6 840.4h8.4M135.6 826.6h8.4M135.6 812.7h16.6M135.6 798.8h8.4M135.6 785.0h8.4M135.6 771.1h8.4M135.6 757.3h8.4M135.6 743.4h16.6M135.6 729.5h8.4M135.6 715.7h8.4M135.6 701.8h8.4M135.6 688.0h8.4M135.6 674.1h16.6M135.6 660.2h8.4M135.6 646.4h8.4M135.6 632.5h8.4M135.6 618.7h8.4M135.6 604.8h16.6M135.6 590.9h8.4M135.6 577.1h8.4M135.6 563.2h8.4M135.6 549.4h8.4M135.6 535.5h16.6M135.6 521.6h8.4M135.6 507.8h8.4M135.6 493.9h8.4M135.6 480.1h8.4M135.6 466.2h16.6" stroke="#000" stroke-width="5.2" fill="none"/>
<g font-family='"Liberation Sans", Arial, Helvetica, sans-serif' font-weight="bold" font-size="42.6" fill="#000" text-anchor="middle">
<text transform="translate(135.4 933.6) scale(1 1.04)">0</text>
<text transform="translate(222.2 933.6) scale(1 1.04)">5</text>
<text transform="translate(309.0 933.6) scale(1 1.04)">10</text>
<text transform="translate(395.8 933.6) scale(1 1.04)">15</text>
<text transform="translate(482.6 933.6) scale(1 1.04)">20</text>
<text transform="translate(569.4 933.6) scale(1 1.04)">25</text>
<text transform="translate(656.2 933.6) scale(1 1.04)">30</text>
<text transform="translate(743.0 933.6) scale(1 1.04)">35</text>
<text transform="translate(829.8 933.6) scale(1 1.04)">40</text>
<text transform="translate(916.6 933.6) scale(1 1.04)">45</text>
<text transform="translate(1003.4 933.6) scale(1 1.04)">50</text>
<text transform="translate(114.9 894.4) scale(1 1.04)" text-anchor="end">0.0</text>
<text transform="translate(114.9 825.1) scale(1 1.04)" text-anchor="end">0.5</text>
<text transform="translate(114.9 755.8) scale(1 1.04)" text-anchor="end">1.0</text>
<text transform="translate(114.9 686.5) scale(1 1.04)" text-anchor="end">1.5</text>
<text transform="translate(114.9 617.2) scale(1 1.04)" text-anchor="end">2.0</text>
<text transform="translate(114.9 547.9) scale(1 1.04)" text-anchor="end">2.5</text>
<text transform="translate(114.9 478.6) scale(1 1.04)" text-anchor="end">3.0</text>
</g>
<text x="570" y="994.6" font-family='"Liberation Sans", Arial, Helvetica, sans-serif' font-weight="bold" font-size="58" text-anchor="middle">B-B' (µm)</text>
<text transform="translate(37 700.5) rotate(-90)" font-family='"Liberation Sans", Arial, Helvetica, sans-serif' font-weight="bold" font-size="50" text-anchor="middle">Electric Field (MV/cm)</text>
<g font-family='"Liberation Sans", Arial, Helvetica, sans-serif' font-weight="bold" fill="#000">
<text x="183.5" y="530" font-size="33.3">1<tspan font-size="22" dy="-12.5">st</tspan><tspan dy="12.5"> Epi-layer</tspan></text>
<text x="479.5" y="529.6" font-size="33.3">2<tspan font-size="22.5" dy="-12.5">nd</tspan><tspan dy="12.5"> Epi-layer</tspan></text>
<text x="480" y="570.4" font-size="28.3">N<tspan font-size="19.4" dy="7">epi2</tspan><tspan dy="-7">=4×10</tspan><tspan font-size="19.4" dy="-11.5">16</tspan><tspan dy="11.5">cm</tspan><tspan font-size="19.4" dy="-11.5">-3</tspan></text>
<text x="797.5" y="500.7" font-size="27">N<tspan font-size="16.5" dy="6.5">epi1</tspan><tspan dy="-6.5">=4×10</tspan><tspan font-size="16.5" dy="-10">16</tspan><tspan dy="10">cm</tspan><tspan font-size="16.5" dy="-10">-3</tspan></text>
<text x="797.5" y="539.4" font-size="27">N<tspan font-size="16.5" dy="6.5">epi1</tspan><tspan dy="-6.5">=5×10</tspan><tspan font-size="16.5" dy="-10">16</tspan><tspan dy="10">cm</tspan><tspan font-size="16.5" dy="-10">-3</tspan></text>
<text x="797.5" y="578.1" font-size="27">N<tspan font-size="16.5" dy="6.5">epi1</tspan><tspan dy="-6.5">=6×10</tspan><tspan font-size="16.5" dy="-10">16</tspan><tspan dy="10">cm</tspan><tspan font-size="16.5" dy="-10">-3</tspan></text>
<text x="797.5" y="616.8" font-size="27">N<tspan font-size="16.5" dy="6.5">epi1</tspan><tspan dy="-6.5">=7×10</tspan><tspan font-size="16.5" dy="-10">16</tspan><tspan dy="10">cm</tspan><tspan font-size="16.5" dy="-10">-3</tspan></text>
<text x="797.5" y="655.5" font-size="27">N<tspan font-size="16.5" dy="6.5">epi1</tspan><tspan dy="-6.5">=8×10</tspan><tspan font-size="16.5" dy="-10">16</tspan><tspan dy="10">cm</tspan><tspan font-size="16.5" dy="-10">-3</tspan></text>
<text x="852" y="720.7" font-size="28">N<tspan font-size="18" dy="7">epi1</tspan></text>
<text x="852" y="767.3" font-size="28.5">increasing</text>
</g>
<path d="M727 490.6H790.4" stroke="#000" stroke-width="6.2"/>
<path d="M655 795.4L840 737.8" stroke="#000" stroke-width="3" fill="none"/>
<path d="M854.3 733.4L836.3 733.2L839.6 743.6Z" fill="#000"/>
<text x="513" y="1061.5" font-family='"Liberation Serif", "Times New Roman", serif' font-size="47" text-anchor="middle">(b)</text>
</svg></body></html>
